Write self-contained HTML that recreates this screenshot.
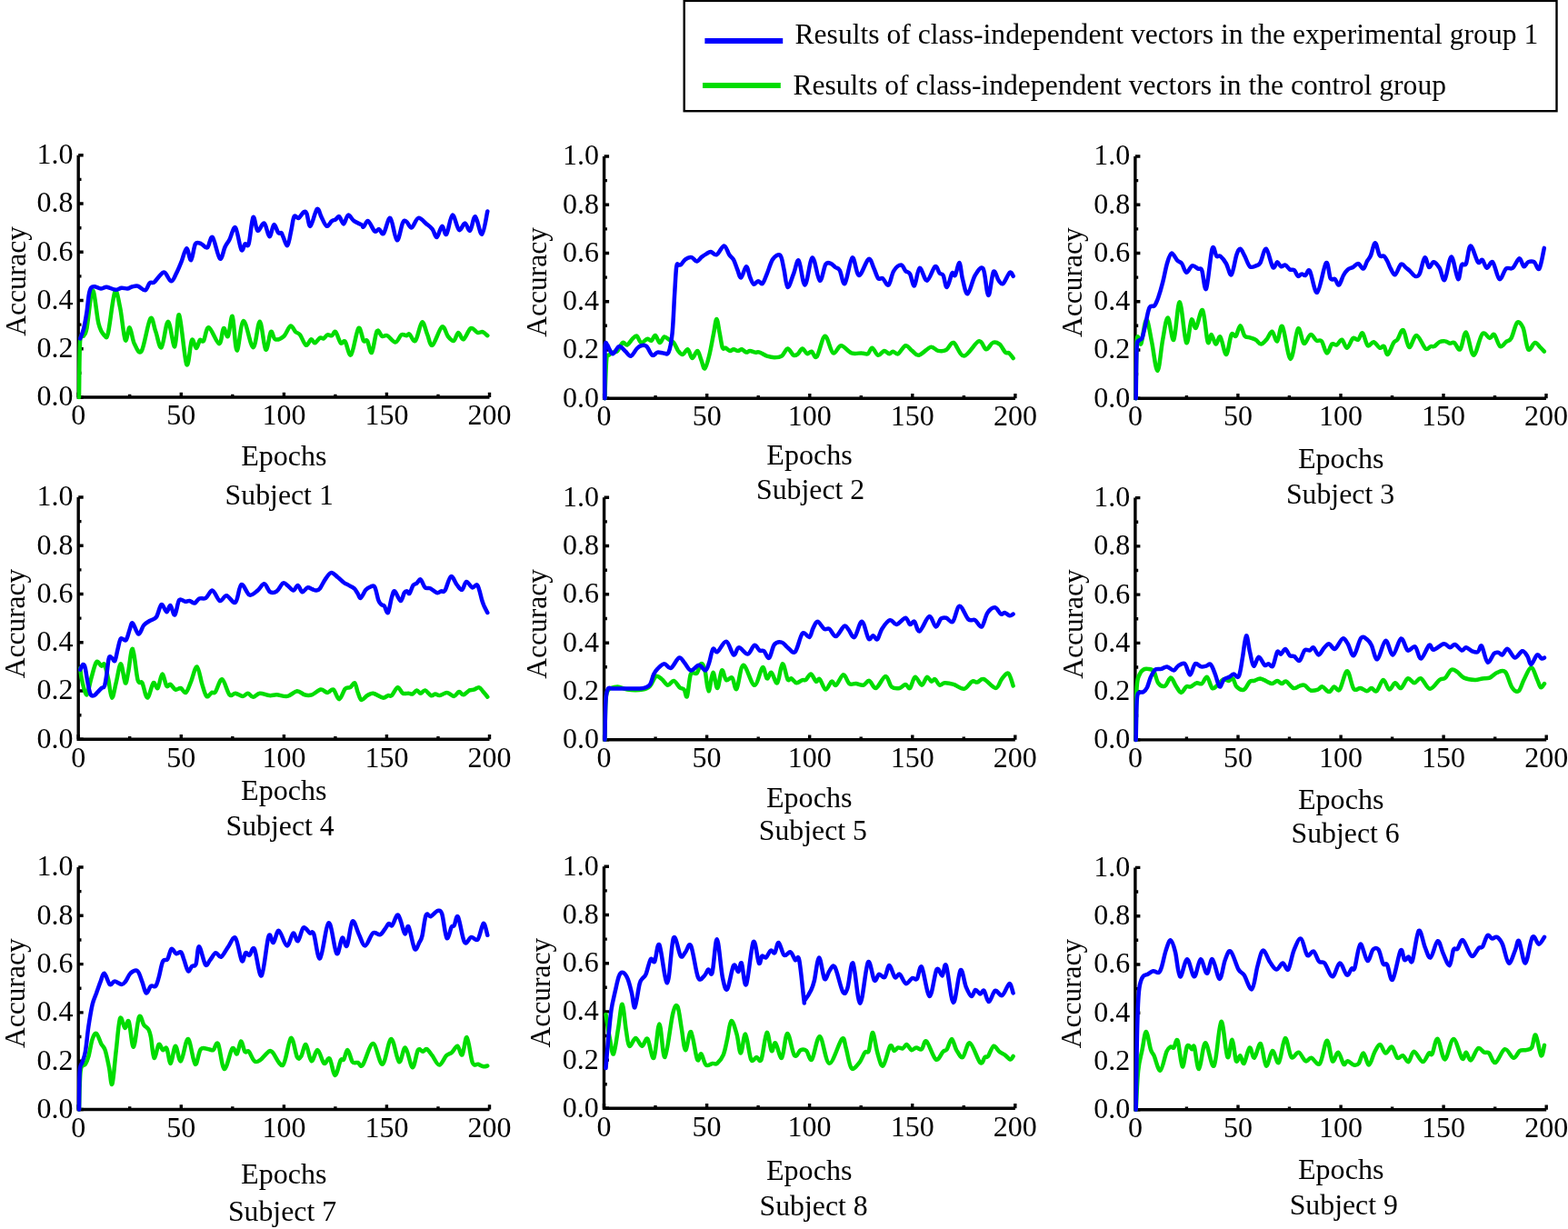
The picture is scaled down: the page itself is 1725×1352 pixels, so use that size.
<!DOCTYPE html>
<html><head><meta charset="utf-8"><title>Accuracy curves</title>
<style>
html,body{margin:0;padding:0;background:#fff;overflow:hidden;}
svg{display:block;}
text{font-family:"Liberation Serif", serif;fill:#000;}
</style></head><body>
<svg width="1725" height="1352" viewBox="0 0 1725 1352">
<rect x="0" y="0" width="1725" height="1352" fill="#fff"/>

<g id="legend">
<rect x="752.7" y="0.9" width="959.8" height="121.3" fill="#fff" stroke="#000" stroke-width="2.4"/>
<line x1="775.4" y1="45" x2="861.2" y2="45" stroke="#0000FF" stroke-width="6"/>
<line x1="773" y1="94" x2="858.8" y2="94" stroke="#00DC00" stroke-width="6"/>
<text x="874.5" y="48.3" font-size="31.6">Results of class-independent vectors in the experimental group 1</text>
<text x="872.4" y="104.4" font-size="31.6">Results of class-independent vectors in the control group</text>
</g>
<g id="sp1">
<path d="M86.2,170.8V438.7M84.5,437H538.5" stroke="#000" stroke-width="3.4" fill="none"/>
<path d="M86.2,437H91.7M86.2,383.8H91.7M86.2,330.5H91.7M86.2,277.3H91.7M86.2,224H91.7M86.2,170.8H91.7M86.2,410.4H89.5M86.2,357.1H89.5M86.2,303.9H89.5M86.2,250.7H89.5M86.2,197.4H89.5M86.2,437V431.7M199.3,437V431.7M312.4,437V431.7M425.4,437V431.7M538.5,437V431.7M142.7,437V433.7M255.8,437V433.7M368.9,437V433.7M482,437V433.7" stroke="#000" stroke-width="3.4" fill="none"/>
<text x="80.5" y="446.4" font-size="32" text-anchor="end">0.0</text>
<text x="80.5" y="393.2" font-size="32" text-anchor="end">0.2</text>
<text x="80.5" y="339.9" font-size="32" text-anchor="end">0.4</text>
<text x="80.5" y="286.7" font-size="32" text-anchor="end">0.6</text>
<text x="80.5" y="233.4" font-size="32" text-anchor="end">0.8</text>
<text x="80.5" y="180.2" font-size="32" text-anchor="end">1.0</text>
<text x="86.2" y="467.2" font-size="32" text-anchor="middle">0</text>
<text x="199.3" y="467.2" font-size="32" text-anchor="middle">50</text>
<text x="312.4" y="467.2" font-size="32" text-anchor="middle">100</text>
<text x="425.4" y="467.2" font-size="32" text-anchor="middle">150</text>
<text x="538.5" y="467.2" font-size="32" text-anchor="middle">200</text>
<text transform="translate(28,309.4) rotate(-90)" font-size="31.5" text-anchor="middle">Accuracy</text>
<text x="312.4" y="511.7" font-size="32.1" text-anchor="middle">Epochs</text>
<text x="307.2" y="555.3" font-size="31.8" text-anchor="middle">Subject 1</text>
<path d="M87,437C87.2,426.8 87.3,387 88.1,375.7C89,364.4 91,371.7 92.2,369.2C93.4,366.8 93.8,369.4 95.5,361.1C97.1,352.8 99.8,320.4 102,319.6C104.1,318.8 106.3,347.9 108.5,356.2C110.6,364.5 113.2,367.6 115,369.2C116.7,370.8 117.2,374 119,366C120.9,358 124.2,325.8 126.4,321.2C128.5,316.6 130.2,329.5 132.1,338.3C134,347.1 136,370.4 137.8,374.1C139.5,377.8 141,359.7 142.6,360.3C144.3,360.8 145.4,373 147.5,377.4C149.7,381.7 152.7,390.8 155.7,386.3C158.6,381.8 162.8,354.2 165.4,350.5C168,346.8 169.1,359 171.1,364.3C173.2,369.6 175.3,384 177.6,382.2C179.9,380.5 182.5,353.9 184.9,353.8C187.4,353.6 190.2,382.6 192.3,381.4C194.3,380.2 195,343.2 197.1,346.4C199.3,349.7 203,396.3 205.3,400.9C207.6,405.6 209.2,377.1 211,374.1C212.7,371.1 214.4,383 215.9,383C217.4,383 218.6,375.5 219.9,374.1C221.3,372.7 222.4,377.2 224,374.9C225.6,372.6 226.8,359.7 229.7,360.3C232.5,360.8 238.4,378 241.1,378.2C243.8,378.3 244.3,362.4 246,361.1C247.6,359.7 249.2,372.2 250.8,370C252.5,367.9 254.1,345.5 255.7,348.1C257.4,350.6 258.6,384.7 260.6,385.5C262.6,386.3 264.9,353.5 267.9,352.9C270.9,352.4 275.5,382.1 278.5,382.2C281.5,382.4 283.5,353.4 285.8,353.8C288.1,354.2 290.3,382.8 292.3,384.7C294.4,386.6 296.3,367 298,365.1C299.8,363.2 300.5,372.5 302.9,373.3C305.3,374.1 309.4,372.4 312.2,370C315,367.6 317.4,359.4 319.5,358.6C321.7,357.8 323.5,363.5 325.2,365.1C327,366.7 328.2,365.9 330.1,368.4C332,370.8 334.6,378.9 336.6,379.8C338.6,380.6 340.7,373.7 342.3,373.3C343.9,372.8 344.7,377.6 346.4,377.3C348,377.1 350.4,372.4 352.1,371.6C353.7,370.8 354.8,373 356.1,372.4C357.5,371.9 358.7,368.9 360.2,368.4C361.7,367.8 363.6,369.7 365.1,369.2C366.6,368.6 367.5,363.8 369.1,365.1C370.8,366.5 373.1,375.6 374.8,377.3C376.6,379.1 377.8,373.5 379.7,375.7C381.6,377.9 383.8,392.8 386.2,390.3C388.7,387.9 392.1,363.6 394.4,361.1C396.7,358.5 398.4,372.6 400,374.9C401.7,377.2 402.6,372.7 404.1,374.9C405.6,377.1 407.2,389.7 409,387.9C410.8,386.1 412.8,367.3 414.7,364.3C416.6,361.3 418.5,369.2 420.4,370C422.3,370.8 423.6,368.1 426.1,369.2C428.5,370.3 432.4,376.6 435,376.5C437.6,376.4 439.5,369.6 441.5,368.4C443.6,367.2 445.7,369.3 447.2,369.2C448.7,369.1 448.9,366.6 450.5,367.6C452.1,368.5 454.7,377.1 457,374.9C459.3,372.7 462.1,355.8 464.3,354.5C466.5,353.3 468.1,363.4 470,367.6C471.9,371.8 473,381.1 475.7,379.8C478.4,378.4 483.4,361.1 486.3,359.4C489.1,357.8 490.6,367.4 492.8,370C494.9,372.6 497.4,375.6 499.3,374.9C501.2,374.2 502.4,366.2 504.2,365.9C505.9,365.7 507.6,374.1 509.9,373.3C512.2,372.4 515.4,362.3 518,361.1C520.6,359.8 523.1,365.3 525.3,365.9C527.5,366.6 529.2,364.6 531,365.1C532.8,365.7 535.4,368.5 536.3,369.2" stroke="#00DC00" stroke-width="4.5" fill="none" stroke-linejoin="round" stroke-linecap="round"/>
<path d="M88.2,372.5C88.9,370.6 91,366 92.2,361.1C93.4,356.2 94.5,349.4 95.5,343.2C96.4,336.9 97.1,328.1 97.9,323.7C98.7,319.2 99.3,317.7 100.3,316.3C101.4,314.9 102.6,315 104.4,315.2C106.2,315.4 108.7,317.4 110.9,317.5C113.1,317.6 114.7,315.6 117.4,315.8C120.1,316.1 124.5,318.6 127.2,318.8C129.9,318.9 131.5,317 133.7,316.8C135.9,316.6 138.3,317.7 140.2,317.5C142.1,317.3 143.2,316 145.1,315.5C147,315.1 149.2,314.1 151.6,314.7C154,315.3 157.6,319.8 159.7,319.3C161.9,318.7 163,312.9 164.6,311.5C166.2,310 167.9,311.7 169.5,310.6C171.1,309.6 172.5,306.8 174.4,304.9C176.3,303.1 178.6,298.8 180.9,299.6C183.2,300.3 186,309.1 188.2,309.3C190.4,309.6 192,304.5 193.9,300.9C195.8,297.3 197.7,292.5 199.6,287.9C201.5,283.3 203.5,273.5 205.3,273.2C207,272.9 208.5,287 210.2,286.2C211.8,285.4 213.1,271.3 215,268.3C216.9,265.4 219.4,267.7 221.6,268.3C223.7,269 226,273.6 228.1,272.4C230.1,271.2 231.5,259 233.8,261C236.1,263 239.6,282.8 241.9,284.6C244.2,286.4 245.8,275.1 247.6,271.6C249.4,268.1 250.6,267 252.5,263.5C254.4,259.9 256.8,248.5 259,250.4C261.1,252.3 263.7,271.9 265.5,274.8C267.2,277.8 268.2,269.4 269.6,268.3C270.9,267.3 272.1,273.2 273.6,268.3C275.1,263.5 276.9,241.5 278.5,239C280.1,236.6 281.4,252.6 283.4,253.7C285.4,254.8 288.5,244.5 290.7,245.6C292.9,246.6 294.6,259.9 296.4,260.2C298.2,260.5 299.7,247.9 301.3,247.2C302.9,246.5 304.8,254.6 306.2,256.1C307.5,257.6 308.5,255.5 309.4,256.1C310.3,256.8 310.2,257.9 311.4,260.2C312.5,262.5 314.8,271 316.3,270C317.8,268.9 319.1,259 320.3,253.7C321.6,248.4 322.2,240.5 323.6,238.2C324.9,235.9 326.7,240.7 328.5,239.9C330.2,239 332.7,234.2 334.2,233.3C335.7,232.5 336.2,232.4 337.4,235C338.6,237.6 339.6,249.6 341.5,248.8C343.4,248 346.8,231.7 348.8,230.1C350.8,228.5 351.9,235.9 353.7,239C355.4,242.2 357.5,248.1 359.4,248.8C361.3,249.5 363.4,244.3 365.1,243.1C366.7,241.9 367.8,242.3 369.1,241.5C370.5,240.7 371.7,237.4 373.2,238.2C374.7,239 376.5,246.6 378.1,246.4C379.7,246.1 381.1,237.1 383,236.6C384.9,236.1 387,241.3 389.5,243.1C391.9,244.9 395.8,246.1 397.6,247.2C399.4,248.3 398.8,250.3 400,249.6C401.3,248.9 402.9,242.3 404.9,243.1C407,243.9 410.2,253 412.2,254.5C414.3,256 415.5,251.7 417.1,252.1C418.8,252.5 420,259 422,256.9C424,254.9 426.9,238.6 429.3,239.9C431.8,241.1 434.3,263.4 436.7,264.3C439,265.1 441.4,248.1 443.2,244.7C444.9,241.3 445.6,243 447.2,243.9C448.9,244.9 450.8,251.1 452.9,250.4C455.1,249.8 457.5,240.5 460.2,239.9C463,239.2 466.6,244.3 469.2,246.4C471.8,248.4 473.8,249.6 475.7,252.1C477.6,254.5 478.8,261.5 480.6,261C482.3,260.5 484.5,249.3 486.3,248.8C488,248.3 489.3,259.8 491.2,257.8C493,255.7 495.4,237.4 497.7,236.6C500,235.8 502.7,251.4 505,252.9C507.3,254.4 509.5,245.4 511.5,245.6C513.5,245.7 515.3,254.9 517.2,253.7C519.1,252.5 520.7,237.6 522.9,238.2C525,238.9 528,258.7 530.2,257.8C532.4,256.8 535.3,236.7 536.3,232.5" stroke="#0000FF" stroke-width="4.5" fill="none" stroke-linejoin="round" stroke-linecap="round"/>
</g>
<g id="sp2">
<path d="M664.6,172V439.9M662.9,438.2H1116.9" stroke="#000" stroke-width="3.4" fill="none"/>
<path d="M664.6,438.2H670.1M664.6,385H670.1M664.6,331.7H670.1M664.6,278.5H670.1M664.6,225.2H670.1M664.6,172H670.1M664.6,411.6H667.9M664.6,358.3H667.9M664.6,305.1H667.9M664.6,251.9H667.9M664.6,198.6H667.9M664.6,438.2V432.9M777.7,438.2V432.9M890.8,438.2V432.9M1003.8,438.2V432.9M1116.9,438.2V432.9M721.1,438.2V434.9M834.2,438.2V434.9M947.3,438.2V434.9M1060.4,438.2V434.9" stroke="#000" stroke-width="3.4" fill="none"/>
<text x="658.9" y="447.6" font-size="32" text-anchor="end">0.0</text>
<text x="658.9" y="394.4" font-size="32" text-anchor="end">0.2</text>
<text x="658.9" y="341.1" font-size="32" text-anchor="end">0.4</text>
<text x="658.9" y="287.9" font-size="32" text-anchor="end">0.6</text>
<text x="658.9" y="234.6" font-size="32" text-anchor="end">0.8</text>
<text x="658.9" y="181.4" font-size="32" text-anchor="end">1.0</text>
<text x="664.6" y="468.4" font-size="32" text-anchor="middle">0</text>
<text x="777.7" y="468.4" font-size="32" text-anchor="middle">50</text>
<text x="890.8" y="468.4" font-size="32" text-anchor="middle">100</text>
<text x="1003.8" y="468.4" font-size="32" text-anchor="middle">150</text>
<text x="1116.9" y="468.4" font-size="32" text-anchor="middle">200</text>
<text transform="translate(601,310.4) rotate(-90)" font-size="31.5" text-anchor="middle">Accuracy</text>
<text x="890.5" y="510.8" font-size="32.1" text-anchor="middle">Epochs</text>
<text x="891.6" y="549.3" font-size="31.8" text-anchor="middle">Subject 2</text>
<path d="M665.4,438.2C665.7,431.1 666.5,403.6 667.2,395.7C667.9,387.8 668.4,392.2 669.6,390.8C670.9,389.5 672.9,388.4 674.5,387.6C676.2,386.8 677.6,387.7 679.4,386C681.2,384.2 683.3,378.1 685.1,377C686.9,375.9 688.2,380.1 690,379.5C691.7,378.8 693.9,374.6 695.7,372.9C697.4,371.3 698.9,369 700.6,369.7C702.2,370.4 703.5,376.5 705.4,377C707.3,377.6 710,373.4 711.9,372.9C713.8,372.5 715.3,375.3 716.8,374.6C718.3,373.9 719.4,368.5 720.9,368.9C722.4,369.3 724.2,376.7 725.8,377C727.4,377.3 728.9,371 730.7,370.5C732.4,370 734.6,372.7 736.4,373.8C738.1,374.8 739.6,375 741.2,377C742.9,379 744.5,383.8 746.1,386C747.7,388.1 749.2,390.3 751,390C752.8,389.8 754.9,383.7 756.7,384.3C758.5,385 759.8,393.8 761.6,394.1C763.3,394.4 765.6,385.7 767.3,386C768.9,386.2 770,392.5 771.3,395.7C772.7,399 773.9,406.3 775.4,405.5C776.9,404.7 778.7,397.4 780.3,390.8C781.9,384.3 783.8,373.1 785.2,366.4C786.5,359.8 787.3,351 788.4,351C789.5,351 790.6,361.1 791.7,366.4C792.8,371.7 793.8,380 794.9,382.7C796,385.4 796.8,382.2 798.2,382.7C799.5,383.2 801.6,385.7 803.1,386C804.6,386.2 805.6,384.3 807.1,384.3C808.6,384.3 810.5,386 812,386C813.5,386 814.6,384.1 816.1,384.3C817.6,384.6 819.5,387.3 821,387.6C822.5,387.9 823.4,386 825,386C826.7,386 829,387.3 830.7,387.6C832.5,387.9 833.4,386.9 835.6,387.6C837.8,388.3 841,390.7 843.7,391.7C846.5,392.6 849.2,393.3 851.9,393.3C854.6,393.3 857.6,393.3 860,391.7C862.5,390 864.4,383.7 866.5,383.5C868.7,383.4 871.1,389.9 873,390.8C874.9,391.8 876.3,390.4 877.9,389.2C879.5,388 881.1,383.5 882.8,383.5C884.5,383.5 886.3,388.7 888,389.2C889.7,389.7 891.1,386.2 892.9,386.7C894.7,387.3 896.1,395.3 898.6,392.4C901,389.6 904.6,370.3 907.5,369.7C910.5,369 913.5,386.6 916.5,388.4C919.5,390.1 922,380.2 925.4,380.2C928.8,380.2 933,387 936.8,388.4C940.6,389.7 945.2,388.2 948.2,388.4C951.2,388.5 952.8,390.1 954.7,389.2C956.6,388.2 957.7,382.4 959.6,382.7C961.5,383 963.9,390.3 966.1,390.8C968.3,391.4 970.6,386.2 972.6,385.9C974.6,385.7 976.7,389.1 978.3,389.2C979.9,389.3 980.7,386.7 982.4,386.7C984,386.7 985.8,390.3 988.1,389.2C990.4,388.1 993.6,380.8 996.2,380.2C998.8,379.7 1001.1,384.2 1003.5,385.9C1006,387.7 1007.4,391.5 1010.8,390.8C1014.2,390.1 1020.3,382.7 1023.9,381.9C1027.4,381.1 1029.1,385.4 1032,385.9C1034.8,386.5 1038.1,386.6 1040.9,385.1C1043.8,383.6 1045.8,375.9 1049.1,377C1052.3,378.1 1055.8,391.9 1060.5,391.6C1065.1,391.4 1072.7,376.6 1076.7,375.4C1080.8,374.1 1082.3,384 1084.9,384.3C1087.4,384.6 1089.7,377.9 1092.2,377C1094.6,376 1097.2,376.9 1099.5,378.6C1101.8,380.4 1104.2,385.9 1106,387.6C1107.8,389.2 1108.6,387.3 1110.1,388.4C1111.5,389.5 1113.9,393.1 1114.7,394.1" stroke="#00DC00" stroke-width="4.5" fill="none" stroke-linejoin="round" stroke-linecap="round"/>
<path d="M665.4,438.2C665.4,429 665.1,392.6 665.6,382.7C666,372.9 667.2,378.9 668,379.1C668.8,379.4 669.4,382.7 670.5,384.3C671.5,386 672.8,389.8 674.5,389.2C676.3,388.7 678.9,381.6 681,381.1C683.2,380.5 685.4,384.2 687.5,386C689.7,387.7 691.9,392.1 694,391.7C696.2,391.2 698.7,385.4 700.6,383.5C702.5,381.6 703.7,380.7 705.4,380.3C707.2,379.8 709.1,379 711.1,380.8C713.2,382.5 715.6,389.7 717.6,390.8C719.7,392 721.3,388 723.3,387.6C725.4,387.2 727.8,388.4 729.8,388.4C731.9,388.4 733.9,391.2 735.5,387.6C737.2,383.9 738.5,376.7 739.6,366.4C740.7,356.1 741.3,338 742,325.8C742.8,313.6 743.4,298.9 744.2,293.2C745,287.5 746.1,292 746.9,291.6C747.8,291.2 748.2,291.9 749.4,290.8C750.6,289.7 752.4,286.4 754.3,285.1C756.1,283.8 758.7,282.7 760.8,283.1C762.8,283.5 764.6,287.6 766.5,287.5C768.4,287.4 770.4,284 772.1,282.6C773.9,281.3 775.4,280.3 777,279.4C778.7,278.4 780,276.8 781.9,276.9C783.8,277.1 786,281.3 788.4,280.2C790.9,279.1 794.3,270.4 796.6,270.4C798.9,270.4 800.5,277.6 802.3,280.2C804,282.8 805.6,283.2 807.1,285.9C808.6,288.6 809.8,293.2 811.2,296.5C812.6,299.7 813.6,306 815.3,305.4C816.9,304.9 819.3,293.4 821,293.2C822.6,293.1 823.7,301.4 825,304.6C826.4,307.9 827.6,312 829.1,312.7C830.6,313.5 832.4,309.3 834,309.2C835.6,309 837.2,313.2 838.9,311.9C840.5,310.6 841.8,305.8 843.7,301.4C845.6,296.9 847.8,288.5 850.2,285.1C852.7,281.7 856.4,279.1 858.4,281C860.4,282.9 861.1,290.6 862.5,296.5C863.8,302.3 864.8,315.2 866.5,316C868.3,316.8 871,306.2 873,301.4C875.1,296.5 876.6,284.7 878.7,286.7C880.8,288.7 883.1,314.1 885.6,313.5C888.1,313 891,284.3 893.7,283.4C896.4,282.6 899.4,307.4 901.8,308.7C904.3,309.9 906.3,293.9 908.3,290.8C910.4,287.6 912.3,289.4 914,290C915.8,290.5 917.3,292.8 918.9,294C920.6,295.2 922,294.3 923.8,297.3C925.6,300.3 927.2,314.2 929.5,311.9C931.8,309.6 935.1,284.9 937.6,283.4C940.2,282 942,302.7 945,303C947.9,303.2 952.8,286.4 955.5,285.1C958.2,283.7 959.5,291.3 961.2,294.8C963,298.4 964.5,304.3 966.1,306.2C967.7,308.1 969.1,305 971,306.2C972.9,307.4 975.5,314.9 977.5,313.5C979.5,312.2 980.9,301.7 983.2,298.1C985.5,294.4 989.1,291.6 991.3,291.6C993.5,291.6 994.6,296.5 996.2,298.1C997.8,299.7 999.5,298.6 1001.1,301.3C1002.7,304.1 1004.2,315.4 1006,314.4C1007.7,313.3 1009.3,295.8 1011.7,294.8C1014,293.9 1016.9,308.9 1019.8,308.7C1022.6,308.4 1026.4,294.6 1028.7,293.2C1031,291.9 1032.1,298.9 1033.6,300.5C1035.1,302.2 1036.3,300.4 1037.7,303C1039,305.5 1040.1,316.4 1041.7,316C1043.4,315.6 1046,302.7 1047.4,300.5C1048.9,298.4 1049.3,304.9 1050.7,303C1052.1,301.1 1054.2,288.6 1055.6,289.1C1056.9,289.7 1057.3,300.5 1058.8,306.2C1060.3,311.9 1062.2,323.8 1064.5,323.3C1066.8,322.8 1069.8,307.6 1072.7,303C1075.5,298.4 1079.2,292 1081.6,295.6C1084,299.3 1085.4,324.4 1087.3,324.9C1089.2,325.5 1091.1,301.6 1093,298.9C1094.9,296.2 1096.9,306.5 1098.7,308.7C1100.4,310.8 1101.5,313.4 1103.6,311.9C1105.6,310.4 1109,301.1 1110.9,299.7C1112.7,298.4 1114.1,303.1 1114.7,303.8" stroke="#0000FF" stroke-width="4.5" fill="none" stroke-linejoin="round" stroke-linecap="round"/>
</g>
<g id="sp3">
<path d="M1248.9,172V439.9M1247.2,438.2H1701" stroke="#000" stroke-width="3.4" fill="none"/>
<path d="M1248.9,438.2H1254.4M1248.9,385H1254.4M1248.9,331.7H1254.4M1248.9,278.5H1254.4M1248.9,225.2H1254.4M1248.9,172H1254.4M1248.9,411.6H1252.2M1248.9,358.3H1252.2M1248.9,305.1H1252.2M1248.9,251.9H1252.2M1248.9,198.6H1252.2M1248.9,438.2V432.9M1361.9,438.2V432.9M1475,438.2V432.9M1588,438.2V432.9M1701,438.2V432.9M1305.4,438.2V434.9M1418.4,438.2V434.9M1531.5,438.2V434.9M1644.5,438.2V434.9" stroke="#000" stroke-width="3.4" fill="none"/>
<text x="1243.2" y="447.6" font-size="32" text-anchor="end">0.0</text>
<text x="1243.2" y="394.4" font-size="32" text-anchor="end">0.2</text>
<text x="1243.2" y="341.1" font-size="32" text-anchor="end">0.4</text>
<text x="1243.2" y="287.9" font-size="32" text-anchor="end">0.6</text>
<text x="1243.2" y="234.6" font-size="32" text-anchor="end">0.8</text>
<text x="1243.2" y="181.4" font-size="32" text-anchor="end">1.0</text>
<text x="1248.9" y="468.4" font-size="32" text-anchor="middle">0</text>
<text x="1361.9" y="468.4" font-size="32" text-anchor="middle">50</text>
<text x="1475" y="468.4" font-size="32" text-anchor="middle">100</text>
<text x="1588" y="468.4" font-size="32" text-anchor="middle">150</text>
<text x="1701" y="468.4" font-size="32" text-anchor="middle">200</text>
<text transform="translate(1189.5,310.7) rotate(-90)" font-size="31.5" text-anchor="middle">Accuracy</text>
<text x="1475.2" y="514.5" font-size="32.1" text-anchor="middle">Epochs</text>
<text x="1474.5" y="554.4" font-size="31.8" text-anchor="middle">Subject 3</text>
<path d="M1249.7,438.2C1249.8,427.9 1250,387.1 1250.6,376.2C1251.1,365.3 1252.2,372.7 1253,372.9C1253.8,373.2 1254.1,381.4 1255.5,377.8C1256.8,374.3 1259.3,352.3 1261.2,351.8C1263.1,351.3 1264.8,365.2 1266.8,374.6C1268.9,383.9 1271.3,407.9 1273.4,407.9C1275.4,407.9 1277.2,384.3 1279,374.6C1280.9,364.8 1282.7,349.5 1284.7,349.4C1286.8,349.2 1289.1,376.6 1291.3,373.8C1293.4,370.9 1295.5,331.7 1297.8,332.3C1300.1,332.8 1302.9,373.8 1305.1,377C1307.3,380.3 1309,354.5 1310.8,351.8C1312.5,349.1 1313.6,362.5 1315.7,360.7C1317.7,359 1320.8,338.6 1323,341.2C1325.2,343.8 1327,371.7 1328.7,376.2C1330.3,380.7 1331.3,367.7 1332.7,368.1C1334.2,368.5 1336,378.2 1337.6,378.6C1339.3,379 1340.6,368.6 1342.5,370.5C1344.4,372.4 1347,390.4 1349,390C1351,389.6 1352.9,371.5 1354.7,368.1C1356.5,364.7 1358,371.3 1359.6,369.7C1361.2,368.1 1362.8,358.3 1364.5,358.3C1366.1,358.3 1367.6,367.5 1369.4,369.7C1371.1,371.9 1373,370.6 1375,371.3C1377.1,372 1379.5,372.5 1381.6,373.8C1383.6,375 1385.2,378.8 1387.3,378.6C1389.3,378.5 1391.7,375.3 1393.8,372.9C1395.8,370.6 1397.6,364.4 1399.5,364.8C1401.4,365.2 1403.2,376.3 1405.1,375.4C1407,374.4 1408.4,355.9 1410.8,359.1C1413.3,362.4 1416.9,394.5 1419.8,394.9C1422.6,395.3 1425.5,364.4 1427.9,361.6C1430.4,358.7 1432.1,376.7 1434.4,377.8C1436.7,378.9 1439.5,368.6 1441.8,368.1C1444.1,367.5 1446.2,373.4 1448.3,374.6C1450.3,375.8 1452.1,373.1 1454,375.4C1455.9,377.7 1457.8,387.9 1459.7,388.4C1461.6,388.9 1463.5,380.1 1465.3,378.6C1467.2,377.1 1468.8,380.2 1470.6,379.4C1472.4,378.6 1474.4,373.2 1476.3,373.7C1478.2,374.3 1479.9,383 1482,382.7C1484,382.4 1486.4,373.6 1488.5,372.1C1490.5,370.6 1492.4,374.7 1494.2,373.7C1495.9,372.8 1497.3,365.3 1499,366.4C1500.8,367.5 1502.7,378.6 1504.7,380.2C1506.8,381.9 1509.1,375.8 1511.2,376.2C1513.4,376.6 1515.9,381.9 1517.8,382.7C1519.6,383.5 1521.1,379.8 1522.6,381.1C1524.1,382.3 1524.9,390.7 1526.7,390C1528.5,389.3 1531.4,379.7 1533.2,377C1535,374.3 1535.5,376 1537.3,373.7C1539,371.4 1541.6,361.8 1543.8,363.2C1545.9,364.5 1547.8,380.9 1550.3,381.9C1552.7,382.8 1555.4,368.6 1558.4,368.9C1561.4,369.1 1565.6,381.5 1568.2,383.5C1570.8,385.5 1572.2,381.5 1573.9,381.1C1575.5,380.6 1576.3,381.9 1577.9,381.1C1579.6,380.2 1581.6,377.1 1583.6,376.2C1585.7,375.2 1588.2,375.1 1590.1,375.4C1592,375.6 1593.4,377.5 1595,377.8C1596.7,378.1 1598,375.9 1599.9,377C1601.8,378.1 1604.2,386.2 1606.4,384.3C1608.6,382.4 1610.5,364.5 1612.9,365.6C1615.4,366.7 1618.1,390.5 1621.1,390.8C1624,391.1 1627.8,370.3 1630.8,367.2C1633.8,364.1 1636.8,372 1638.9,372.1C1641.1,372.2 1641.9,366.5 1643.8,368C1645.7,369.5 1648.2,379.7 1650.3,381.1C1652.5,382.4 1654.8,377.7 1656.8,376.2C1658.9,374.7 1660.5,375.6 1662.5,372.1C1664.6,368.6 1666.9,356.9 1669,355C1671.2,353.1 1673.5,355.8 1675.6,360.7C1677.6,365.6 1679.1,381.6 1681.2,384.3C1683.4,387 1686.4,377.4 1688.6,377C1690.7,376.6 1692.6,380.2 1694.3,381.9C1696,383.5 1698,385.9 1698.8,386.7" stroke="#00DC00" stroke-width="4.5" fill="none" stroke-linejoin="round" stroke-linecap="round"/>
<path d="M1249.7,438.2C1249.8,429 1250,393.3 1250.6,382.7C1251.1,372.1 1252.1,376.3 1253,374.6C1254,372.8 1255.2,374.6 1256.3,372.1C1257.4,369.7 1258.2,365.5 1259.5,359.9C1260.9,354.4 1262.6,342.7 1264.4,338.8C1266.2,334.8 1268.5,338.2 1270.1,336.3C1271.7,334.4 1272.7,331.6 1274.2,327.4C1275.7,323.2 1277.4,317.4 1279,311.1C1280.7,304.9 1282.3,295.4 1283.9,290C1285.6,284.5 1286.9,279.1 1288.8,278.6C1290.7,278 1293.4,284.8 1295.3,286.7C1297.2,288.6 1298.6,287.8 1300.2,290C1301.8,292.1 1303.2,299.3 1305.1,299.7C1307,300.1 1309.4,293.1 1311.6,292.4C1313.8,291.7 1316.3,294.8 1318.1,295.7C1319.9,296.5 1320.7,293.6 1322.2,297.3C1323.7,300.9 1325.2,321.6 1327,317.6C1328.9,313.7 1331.7,279.7 1333.6,273.7C1335.5,267.7 1336.9,280.5 1338.4,281.8C1339.9,283.2 1340.7,280.5 1342.5,281.8C1344.3,283.2 1347,286.6 1349,290C1351,293.4 1352.8,303.8 1354.7,302.2C1356.6,300.5 1358.8,284.9 1360.4,280.2C1362,275.5 1363,273.4 1364.5,273.7C1366,274 1367.6,278.6 1369.4,281.8C1371.1,285.1 1373,291.5 1375,293.2C1377.1,295 1379.7,293.1 1381.6,292.4C1383.5,291.7 1384.5,292.3 1386.4,289.2C1388.3,286 1390.6,272.9 1392.9,273.7C1395.3,274.5 1398.2,291.6 1400.3,294C1402.3,296.5 1403.7,288.5 1405.1,288.3C1406.6,288.2 1407.7,292.7 1409.2,293.2C1410.7,293.8 1412.5,291 1414.1,291.6C1415.7,292.1 1417.4,295.5 1419,296.5C1420.6,297.4 1422.4,296.1 1423.9,297.3C1425.4,298.5 1426.6,303.1 1427.9,303.8C1429.3,304.5 1430.6,301.5 1432,301.4C1433.4,301.2 1434.6,303.5 1436.1,303C1437.6,302.4 1438.8,295 1440.9,298.1C1443.1,301.2 1446.1,323.2 1449.1,321.7C1452.1,320.2 1456.4,291.7 1458.8,289.2C1461.3,286.6 1462.1,303.3 1463.7,306.2C1465.3,309.2 1467.1,305.8 1468.6,307C1470.2,308.3 1471.5,314.2 1473,313.5C1474.6,312.9 1476.3,305.8 1477.9,303C1479.5,300.1 1481,298 1482.8,296.5C1484.5,295 1486.6,295.1 1488.5,294C1490.4,292.9 1492.3,289.7 1494.2,290C1496.1,290.2 1498.2,296.1 1499.9,295.6C1501.5,295.2 1502.6,290 1503.9,287.5C1505.3,285.1 1506.5,284.4 1508,281C1509.5,277.6 1511.2,267.2 1512.9,267.2C1514.5,267.2 1516.1,278.6 1517.8,281C1519.4,283.4 1521.1,280.6 1522.6,281.8C1524.1,283 1525.5,286 1526.7,288.3C1527.9,290.6 1528.6,293.3 1530,295.6C1531.3,298 1532.9,303 1534.8,302.2C1536.7,301.3 1539.3,292 1541.3,290.8C1543.4,289.5 1545.4,293.6 1547,294.8C1548.7,296.1 1549.5,296.6 1551.1,298.1C1552.7,299.6 1555,303.2 1556.8,303.8C1558.6,304.3 1559.9,304.7 1561.7,301.3C1563.4,298 1565.6,284.7 1567.4,283.4C1569.1,282.2 1570.6,293.2 1572.2,294C1573.9,294.8 1575.2,288.2 1577.1,288.3C1579,288.5 1581.6,291.6 1583.6,294.8C1585.7,298.1 1587.2,309.9 1589.3,307.8C1591.5,305.8 1594.2,282.8 1596.7,282.6C1599.1,282.5 1602.1,305.5 1604,307C1605.9,308.5 1606.5,294.4 1608,291.6C1609.5,288.7 1611.3,293.5 1612.9,290C1614.5,286.4 1615.6,270.7 1617.8,270.4C1620,270.2 1623.8,285.8 1625.9,288.3C1628.1,290.9 1629.2,284.8 1630.8,285.9C1632.4,287 1633.8,294.4 1635.7,294.8C1637.6,295.2 1639.9,286.3 1642.2,288.3C1644.5,290.4 1647.1,305.8 1649.5,307C1652,308.3 1654.4,297.7 1656.8,295.6C1659.3,293.6 1661.7,296.7 1664.2,294.8C1666.6,292.9 1669.5,284.5 1671.5,284.3C1673.5,284 1674.7,292.5 1676.4,293.2C1678,293.9 1679.3,289.1 1681.2,288.3C1683.1,287.5 1685.7,287.1 1687.8,288.3C1689.8,289.5 1691.6,298.2 1693.4,295.6C1695.3,293.1 1697.9,276.7 1698.8,272.9" stroke="#0000FF" stroke-width="4.5" fill="none" stroke-linejoin="round" stroke-linecap="round"/>
</g>
<g id="sp4">
<path d="M86.2,547V815M84.5,813.3H538.5" stroke="#000" stroke-width="3.4" fill="none"/>
<path d="M86.2,813.3H91.7M86.2,760H91.7M86.2,706.8H91.7M86.2,653.5H91.7M86.2,600.3H91.7M86.2,547H91.7M86.2,786.7H89.5M86.2,733.4H89.5M86.2,680.1H89.5M86.2,626.9H89.5M86.2,573.6H89.5M86.2,813.3V808M199.3,813.3V808M312.4,813.3V808M425.4,813.3V808M538.5,813.3V808M142.7,813.3V810M255.8,813.3V810M368.9,813.3V810M482,813.3V810" stroke="#000" stroke-width="3.4" fill="none"/>
<text x="80.5" y="822.7" font-size="32" text-anchor="end">0.0</text>
<text x="80.5" y="769.4" font-size="32" text-anchor="end">0.2</text>
<text x="80.5" y="716.2" font-size="32" text-anchor="end">0.4</text>
<text x="80.5" y="662.9" font-size="32" text-anchor="end">0.6</text>
<text x="80.5" y="609.7" font-size="32" text-anchor="end">0.8</text>
<text x="80.5" y="556.4" font-size="32" text-anchor="end">1.0</text>
<text x="86.2" y="843.5" font-size="32" text-anchor="middle">0</text>
<text x="199.3" y="843.5" font-size="32" text-anchor="middle">50</text>
<text x="312.4" y="843.5" font-size="32" text-anchor="middle">100</text>
<text x="425.4" y="843.5" font-size="32" text-anchor="middle">150</text>
<text x="538.5" y="843.5" font-size="32" text-anchor="middle">200</text>
<text transform="translate(26.6,686) rotate(-90)" font-size="31.5" text-anchor="middle">Accuracy</text>
<text x="312.3" y="880.4" font-size="32.1" text-anchor="middle">Epochs</text>
<text x="308.1" y="918.7" font-size="31.8" text-anchor="middle">Subject 4</text>
<path d="M88.2,735C88.5,736.9 88.8,742 89.8,746.4C90.7,750.9 92.7,759.2 93.8,761.9C94.9,764.6 95.2,765.3 96.3,762.7C97.4,760.1 98.7,752.1 100.3,746.4C102,740.7 104.1,730.8 106,728.5C107.9,726.2 110.2,732.2 111.7,732.6C113.2,733 113.8,728.7 115,731C116.2,733.3 117.7,740.3 119,746.4C120.4,752.5 121.6,767 123.1,767.6C124.6,768.1 126.4,755.9 128,749.7C129.6,743.5 131.3,729.9 132.9,730.2C134.5,730.4 136.4,749.7 137.8,751.3C139.1,752.9 139.7,746.2 141,739.9C142.4,733.7 144.1,712.5 145.9,713.9C147.7,715.3 149.8,741.8 151.6,748.1C153.4,754.3 154.7,748.1 156.5,751.3C158.2,754.6 160.1,767.6 162.2,767.6C164.2,767.6 166.8,753.1 168.7,751.3C170.6,749.6 171.9,758.6 173.6,757C175.2,755.4 176.8,742 178.4,741.6C180.1,741.1 181.8,752.7 183.3,754.6C184.8,756.5 185.8,752.3 187.4,752.9C189,753.6 191.2,758 193.1,758.6C195,759.3 196.9,756.5 198.8,757C200.7,757.6 202.6,763.1 204.5,761.9C206.4,760.7 208.1,754.4 210.2,749.7C212.2,744.9 214.6,732.9 216.7,733.4C218.7,734 220.6,747.5 222.4,752.9C224.1,758.4 225.5,764.5 227.3,766C229,767.5 231.3,762.7 232.9,761.9C234.6,761.1 235.1,763.5 237,761.1C238.9,758.6 241.8,746.7 244.3,747.3C246.9,747.8 250,761.8 252.5,764.3C254.9,766.9 256.5,762.4 259,762.7C261.4,763 264.8,766 267.1,766C269.4,766 270.9,762.6 272.8,762.7C274.7,762.8 276.3,766.8 278.5,766.8C280.7,766.8 282.8,763 285.8,762.7C288.8,762.4 293.3,764.9 296.4,765.1C299.5,765.4 301.2,764.2 304.5,764.3C307.8,764.5 312.6,766.6 316.3,765.9C320,765.3 323.7,760.5 326.8,760.2C330,760 332.3,763.6 335,764.3C337.7,765 340.1,765.3 343.1,764.3C346.1,763.4 350,759 352.9,758.6C355.7,758.2 357.9,761.9 360.2,761.9C362.5,761.9 364.5,757.4 366.7,758.6C368.9,759.8 371,769.3 373.2,769.2C375.4,769.1 377.7,760 379.7,757.8C381.7,755.6 383.6,757.3 385.4,756.2C387.2,755.1 388.9,750.5 390.3,751.3C391.6,752.1 392.3,757.9 393.5,761.1C394.8,764.2 395.8,769.3 397.6,770C399.4,770.7 401.9,766.3 404.1,765.1C406.3,763.9 407.8,762.3 410.6,762.7C413.5,763.1 418.5,767.2 421.2,767.6C423.9,768 425.3,765.5 426.9,765.1C428.5,764.7 429.2,766.6 431,765.1C432.7,763.6 435.4,756.6 437.5,756.2C439.5,755.8 441.1,761.6 443.2,762.7C445.2,763.8 447.9,762.5 449.7,762.7C451.4,762.8 452.2,764 453.7,763.5C455.2,763 457.1,759.6 458.6,759.4C460.1,759.3 461.2,762.7 462.7,762.7C464.2,762.7 465.7,759 467.6,759.4C469.5,759.8 472.2,764.4 474.1,765.1C476,765.8 477.3,763.5 478.9,763.5C480.6,763.5 481.7,765.4 483.8,765.1C486,764.9 489.4,761.7 492,761.9C494.5,762 497.1,766.1 499.3,765.9C501.5,765.8 503.2,761.3 505,761.1C506.7,760.8 508,764.6 509.9,764.3C511.8,764 514.5,760.4 516.4,759.4C518.3,758.5 519.5,759.2 521.2,758.6C523,758.1 525.3,755.9 526.9,756.2C528.6,756.4 529.4,758.5 531,760.2C532.6,762 535.4,765.7 536.3,766.7" stroke="#00DC00" stroke-width="4.5" fill="none" stroke-linejoin="round" stroke-linecap="round"/>
<path d="M88.2,736.7C88.7,735.7 90.5,731.3 91.4,731C92.3,730.7 93,731.9 93.8,735C94.6,738.2 95.3,744.9 96.3,749.7C97.2,754.4 98.3,760.9 99.5,763.5C100.7,766.1 102.2,765.6 103.6,765.1C104.9,764.7 106.3,762.4 107.7,761.1C109,759.7 110.5,758.1 111.7,757C112.9,755.9 114,757.1 115,754.6C115.9,752 116.6,746.7 117.4,741.6C118.2,736.4 118.9,726.6 119.9,723.7C120.8,720.7 122,723.1 123.1,723.7C124.2,724.2 125.3,728.5 126.4,726.9C127.5,725.3 128.5,718 129.6,713.9C130.7,709.8 131.4,704.1 132.9,702.5C134.4,700.9 136.9,705.8 138.6,704.1C140.2,702.5 141.4,695.9 142.6,692.7C143.9,689.6 144.3,684.6 145.9,685.4C147.5,686.2 150.4,697.2 152.4,697.6C154.4,698 156.1,690.3 158.1,687.9C160.1,685.4 162.3,684.5 164.6,683C166.9,681.5 169.8,681.9 171.9,678.9C174.1,675.9 175.7,666 177.6,665.1C179.5,664.1 181.7,673.1 183.3,673.2C184.9,673.4 185.9,665.4 187.4,665.9C188.9,666.4 190.6,677.4 192.3,676.5C193.9,675.5 195.3,662.6 197.1,660.2C199,657.8 201.8,661.7 203.7,661.8C205.6,662 206.8,660.7 208.5,661C210.3,661.3 212.5,663.9 214.2,663.5C216,663 217.1,659.5 219.1,658.6C221.1,657.6 224,659.3 226.4,657.8C228.9,656.3 231.2,649.1 233.8,649.6C236.3,650.2 239.3,660.1 241.9,661C244.5,662 246.4,655 249.2,655.3C252.1,655.6 256.3,664.7 259,662.6C261.7,660.6 262.9,644.5 265.5,643.1C268.1,641.8 271.5,653.4 274.4,654.5C277.4,655.6 280.7,651.7 283.4,649.6C286.1,647.6 288.4,642 290.7,642.3C293,642.6 294.9,649.9 297.2,651.3C299.5,652.6 302.2,652.1 304.5,650.4C306.9,648.8 309.3,642.4 311.4,641.5C313.5,640.5 315.2,643.4 317.1,644.7C319,646.1 321,649.8 322.8,649.6C324.5,649.5 326,643.7 327.7,643.9C329.3,644.2 330.8,650.8 332.5,651.2C334.3,651.7 336.5,646.9 338.2,646.4C340,645.8 341.5,647.4 343.1,648C344.7,648.5 346.5,649.8 348,649.6C349.5,649.5 350.4,649.2 352.1,647.2C353.7,645.1 355.7,640.3 357.8,637.4C359.8,634.6 362,630.5 364.3,630.1C366.6,629.7 369.3,633.2 371.6,635C373.9,636.7 376.1,639.2 378.1,640.7C380.1,642.2 381.9,642.8 383.8,643.9C385.7,645 387.8,645.7 389.5,647.2C391.1,648.7 392.3,651.1 393.5,652.9C394.8,654.6 395.3,658.4 396.8,657.8C398.3,657.1 400.7,650.8 402.5,648.8C404.3,646.8 405.7,646.1 407.4,645.6C409,645 410.8,643.1 412.2,645.6C413.7,648 415.1,656.9 416.3,660.2C417.5,663.4 418.5,664 419.6,665.1C420.7,666.2 421.6,665.2 422.8,666.7C424,668.2 425.5,675.6 426.9,674C428.2,672.4 429.7,660.9 431,656.9C432.2,653 432.6,649.8 434.2,650.4C435.8,651.1 439,660.7 440.7,661C442.5,661.3 443.6,653.8 444.8,652.1C446,650.3 447.1,650.3 448,650.4C449,650.6 449.4,654 450.5,652.9C451.6,651.8 453.2,645.8 454.5,643.9C455.9,642 457.3,642.6 458.6,641.5C460,640.4 461.2,636.6 462.7,637.4C464.2,638.2 465.8,644.7 467.6,646.4C469.3,648 471.1,646.2 473.3,647.2C475.4,648.1 478.5,651.5 480.6,652.1C482.6,652.6 484,650.8 485.5,650.4C486.9,650 487.8,652.3 489.5,649.6C491.3,646.9 493.9,635.2 496,634.2C498.2,633.1 500.5,640.7 502.5,643.1C504.6,645.6 506.5,649.3 508.2,648.8C510,648.3 511.2,640.3 513.1,639.9C515,639.5 517.6,645.7 519.6,646.4C521.7,647 523.6,641.6 525.3,643.9C527.1,646.2 529,656.4 530.2,660.2C531.4,664 531.6,664.4 532.6,666.7C533.7,669 535.7,672.8 536.3,674" stroke="#0000FF" stroke-width="4.5" fill="none" stroke-linejoin="round" stroke-linecap="round"/>
</g>
<g id="sp5">
<path d="M664.6,547.2V815.5M662.9,813.8H1116.8" stroke="#000" stroke-width="3.4" fill="none"/>
<path d="M664.6,813.8H670.1M664.6,760.5H670.1M664.6,707.2H670.1M664.6,653.8H670.1M664.6,600.5H670.1M664.6,547.2H670.1M664.6,787.1H667.9M664.6,733.8H667.9M664.6,680.5H667.9M664.6,627.2H667.9M664.6,573.9H667.9M664.6,813.8V808.5M777.6,813.8V808.5M890.7,813.8V808.5M1003.8,813.8V808.5M1116.8,813.8V808.5M721.1,813.8V810.5M834.2,813.8V810.5M947.2,813.8V810.5M1060.3,813.8V810.5" stroke="#000" stroke-width="3.4" fill="none"/>
<text x="658.9" y="823.2" font-size="32" text-anchor="end">0.0</text>
<text x="658.9" y="769.9" font-size="32" text-anchor="end">0.2</text>
<text x="658.9" y="716.6" font-size="32" text-anchor="end">0.4</text>
<text x="658.9" y="663.2" font-size="32" text-anchor="end">0.6</text>
<text x="658.9" y="609.9" font-size="32" text-anchor="end">0.8</text>
<text x="658.9" y="556.6" font-size="32" text-anchor="end">1.0</text>
<text x="664.6" y="844" font-size="32" text-anchor="middle">0</text>
<text x="777.6" y="844" font-size="32" text-anchor="middle">50</text>
<text x="890.7" y="844" font-size="32" text-anchor="middle">100</text>
<text x="1003.8" y="844" font-size="32" text-anchor="middle">150</text>
<text x="1116.8" y="844" font-size="32" text-anchor="middle">200</text>
<text transform="translate(601,686.3) rotate(-90)" font-size="31.5" text-anchor="middle">Accuracy</text>
<text x="890.2" y="887.8" font-size="32.1" text-anchor="middle">Epochs</text>
<text x="894.4" y="924.2" font-size="31.8" text-anchor="middle">Subject 5</text>
<path d="M665.4,813.8C665.6,806.9 665.8,781.5 666.4,772.5C667,763.4 666.7,762.3 668.8,759.5C671,756.6 675.9,755.5 679.4,755.4C682.9,755.3 685.4,758.1 690,758.6C694.6,759.2 702.9,759.3 707.1,758.6C711.3,758 712.8,757 715.2,754.6C717.6,752.1 719.5,745.2 721.7,744C723.9,742.8 726,745.6 728.2,747.3C730.4,748.9 732.6,753.5 734.7,753.8C736.9,754 739.1,748.5 741.2,748.9C743.4,749.3 745.8,754.6 747.7,756.2C749.6,757.8 751.3,757 752.6,758.6C754,760.3 754.7,768.8 755.9,766C757.1,763.1 758.2,745.8 759.9,741.6C761.7,737.4 764.6,742.6 766.5,740.7C768.4,738.8 769.8,730.8 771.3,730.2C772.8,729.5 774,731.7 775.4,736.7C776.8,741.7 778,759.7 779.5,760.3C781,760.8 782.7,740.5 784.4,739.9C786,739.4 787.6,757.4 789.2,757C790.9,756.6 792.5,739 794.1,737.5C795.7,736 797.1,746.7 799,748.1C800.9,749.4 803.6,744 805.5,745.6C807.4,747.3 808.4,760.1 810.4,757.8C812.4,755.5 814.5,732.5 817.7,731.8C821,731.1 826.4,753.4 829.9,753.8C833.4,754.2 836.6,735.5 838.9,734.2C841.2,733 842.1,745.5 843.7,746.4C845.4,747.4 846.7,739.1 848.6,739.9C850.5,740.7 853.1,752.9 855.1,751.3C857.2,749.7 858.9,730.8 860.8,730.2C862.7,729.5 864.9,744.5 866.5,747.3C868.1,750 869,745.8 870.6,746.4C872.2,747.1 874.2,751 876.3,751.3C878.3,751.6 881.1,748.6 882.8,748.1C884.5,747.5 884.8,749.1 886.4,748C887.9,747 890.2,741.3 892.1,741.5C894,741.8 896.1,748.7 897.8,749.7C899.4,750.6 900.1,745.7 901.8,747.2C903.6,748.7 906.2,758.2 908.3,758.6C910.5,759 913,750.5 914.9,749.7C916.8,748.9 917.6,755 919.7,753.7C921.9,752.5 925.4,742.6 927.9,742.3C930.3,742.1 932.1,750.5 934.4,752.1C936.7,753.7 939.1,751.8 941.7,752.1C944.3,752.4 947.4,754.3 949.8,753.7C952.3,753.2 954,748.3 956.3,748.9C958.6,749.4 960.7,757.8 963.7,757C966.6,756.2 971.4,744.2 974.2,744C977.1,743.7 978.2,753.2 980.7,755.4C983.3,757.5 987.1,757.4 989.7,757C992.3,756.6 994.3,752.9 996.2,752.9C998.1,752.9 999.3,758.3 1001.1,757C1002.8,755.6 1004.6,745.3 1006.8,744.8C1008.9,744.2 1011.9,753.7 1014.1,753.7C1016.3,753.7 1018,745.5 1019.8,744.8C1021.5,744.1 1023.2,749.3 1024.7,749.7C1026.2,750.1 1027.2,746.5 1028.7,747.2C1030.2,747.9 1031.9,753.1 1033.6,753.7C1035.4,754.4 1036.7,751.4 1039.3,751.3C1041.9,751.2 1045.5,751.8 1049.1,752.9C1052.6,754 1057.1,758.3 1060.5,757.8C1063.8,757.3 1067,750.9 1069.4,749.7C1071.8,748.4 1072.9,750.9 1075.1,750.5C1077.3,750.1 1079,746.1 1082.4,747.2C1085.8,748.3 1092.2,757 1095.4,757C1098.7,757 1099.6,749.9 1101.9,747.2C1104.2,744.5 1107.2,739.5 1109.3,740.7C1111.4,741.9 1113.7,752.2 1114.6,754.5" stroke="#00DC00" stroke-width="4.5" fill="none" stroke-linejoin="round" stroke-linecap="round"/>
<path d="M665.4,813.8C665.6,806.6 665.8,780.2 666.4,770.8C667,761.5 667.5,760 668.8,757.8C670.2,755.6 671.4,757.6 674.5,757.5C677.6,757.4 682.7,757.5 687.5,757.5C692.4,757.5 700,757.7 703.8,757.5C707.6,757.3 708.4,757 710.3,756.2C712.2,755.4 713.7,755.4 715.2,752.9C716.7,750.5 717.9,744.4 719.3,741.6C720.6,738.7 721.4,737.8 723.3,735.9C725.2,734 728.2,730.3 730.7,730.2C733.1,730 735.3,736.1 738,735C740.7,734 744.5,724.7 746.9,723.7C749.4,722.6 750.5,726.2 752.6,728.5C754.8,730.8 757.2,736.9 759.9,737.5C762.7,738 766.2,731.8 768.9,731.8C771.6,731.8 774.3,738 776.2,737.5C778.1,736.9 778.9,732.5 780.3,728.5C781.6,724.6 782.9,715.8 784.4,713.9C785.8,712 786.8,718.5 789.2,717.1C791.7,715.8 796,705.2 799,705.8C802,706.3 804.8,719.3 807.1,720.4C809.4,721.5 810.3,712.4 812.8,712.3C815.4,712.1 819.7,720 822.6,719.6C825.4,719.2 827.7,710.5 829.9,709.8C832.1,709.1 833.8,714.4 835.6,715.5C837.4,716.6 838.7,715 840.5,716.3C842.2,717.7 844.3,724.9 846.2,723.7C848.1,722.4 849.6,711.9 851.9,709C854.2,706.2 857.6,706 860,706.6C862.5,707.1 864.1,710.5 866.5,712.3C869,714 871.9,719.7 874.7,717.1C877.4,714.6 880.2,699.5 882.8,696.8C885.4,694.1 888.5,701.8 890.5,700.9C892.4,699.9 893,693.9 894.5,691.1C896,688.3 897.4,683.6 899.4,683.8C901.4,683.9 904.6,690.6 906.7,691.9C908.9,693.3 910.2,690.6 912.4,691.9C914.6,693.3 917,700.6 919.7,700C922.4,699.5 926.4,689.9 928.7,688.7C931,687.4 931.7,690.7 933.6,692.7C935.5,694.8 937.6,702.4 940.1,700.9C942.5,699.4 945.6,683.5 948.2,683.8C950.8,684.1 953.5,699.9 955.5,702.5C957.6,705.1 958.8,699.1 960.4,699.2C962,699.4 963.7,704.5 965.3,703.3C966.9,702.1 967.9,695.4 970.2,691.9C972.5,688.4 976.4,683 979.1,682.2C981.8,681.3 983.6,687.4 986.4,687C989.3,686.6 993.8,679.7 996.2,679.7C998.6,679.7 999.5,686.4 1001.1,687C1002.7,687.7 1004.2,682.6 1006,683.8C1007.7,685 1008.9,695.3 1011.7,694.4C1014.4,693.4 1019.2,678.9 1022.2,678.1C1025.2,677.3 1027.4,689.1 1029.5,689.5C1031.7,689.9 1033.3,682.2 1035.2,680.5C1037.1,678.9 1038.8,679.2 1040.9,679.7C1043.1,680.3 1045.8,685.9 1048.3,683.8C1050.7,681.6 1052.7,667.1 1055.6,666.7C1058.4,666.3 1062.5,678.8 1065.3,681.3C1068.2,683.9 1070.2,680.8 1072.7,682.2C1075.1,683.5 1077.7,690.8 1080,689.5C1082.3,688.1 1084,677.5 1086.5,674C1088.9,670.5 1092.2,668.1 1094.6,668.3C1097.1,668.6 1099.4,674.7 1101.1,675.6C1102.9,676.6 1103.6,673.7 1105.2,674C1106.8,674.3 1109.3,677 1110.9,677.3C1112.5,677.5 1114,675.9 1114.6,675.6" stroke="#0000FF" stroke-width="4.5" fill="none" stroke-linejoin="round" stroke-linecap="round"/>
</g>
<g id="sp6">
<path d="M1248.9,547.6V815.6M1247.2,813.9H1701.2" stroke="#000" stroke-width="3.4" fill="none"/>
<path d="M1248.9,813.9H1254.4M1248.9,760.6H1254.4M1248.9,707.4H1254.4M1248.9,654.1H1254.4M1248.9,600.9H1254.4M1248.9,547.6H1254.4M1248.9,787.3H1252.2M1248.9,734H1252.2M1248.9,680.8H1252.2M1248.9,627.5H1252.2M1248.9,574.2H1252.2M1248.9,813.9V808.6M1362,813.9V808.6M1475.1,813.9V808.6M1588.1,813.9V808.6M1701.2,813.9V808.6M1305.4,813.9V810.6M1418.5,813.9V810.6M1531.6,813.9V810.6M1644.7,813.9V810.6" stroke="#000" stroke-width="3.4" fill="none"/>
<text x="1243.2" y="823.3" font-size="32" text-anchor="end">0.0</text>
<text x="1243.2" y="770" font-size="32" text-anchor="end">0.2</text>
<text x="1243.2" y="716.8" font-size="32" text-anchor="end">0.4</text>
<text x="1243.2" y="663.5" font-size="32" text-anchor="end">0.6</text>
<text x="1243.2" y="610.3" font-size="32" text-anchor="end">0.8</text>
<text x="1243.2" y="557" font-size="32" text-anchor="end">1.0</text>
<text x="1248.9" y="844.1" font-size="32" text-anchor="middle">0</text>
<text x="1362" y="844.1" font-size="32" text-anchor="middle">50</text>
<text x="1475.1" y="844.1" font-size="32" text-anchor="middle">100</text>
<text x="1588.1" y="844.1" font-size="32" text-anchor="middle">150</text>
<text x="1701.2" y="844.1" font-size="32" text-anchor="middle">200</text>
<text transform="translate(1190.8,686.5) rotate(-90)" font-size="31.5" text-anchor="middle">Accuracy</text>
<text x="1475.2" y="890.1" font-size="32.1" text-anchor="middle">Epochs</text>
<text x="1480.1" y="926.6" font-size="31.8" text-anchor="middle">Subject 6</text>
<path d="M1249.7,813.9C1249.8,804.3 1249.9,768.3 1250.6,756.2C1251.3,744.1 1252.6,744.8 1253.8,741.6C1255.1,738.3 1256.4,737.6 1257.9,736.7C1259.4,735.7 1260.9,735.6 1262.8,735.9C1264.7,736.1 1267.4,735.7 1269.3,738.3C1271.2,740.9 1272.1,748.6 1274.2,751.3C1276.2,754 1279.2,755.5 1281.5,754.6C1283.8,753.6 1286,745.6 1288,745.6C1290,745.6 1291.8,751.9 1293.7,754.6C1295.6,757.3 1297.5,761.8 1299.4,761.9C1301.3,762 1303.3,756.5 1305.1,755.4C1306.8,754.3 1308.1,756.1 1310,755.4C1311.9,754.7 1314.4,751.9 1316.5,751.3C1318.5,750.8 1320.3,753.2 1322.2,752.1C1324.1,751 1326,744 1327.9,744.8C1329.8,745.6 1331.7,755.5 1333.6,757C1335.5,758.5 1337.2,755.4 1339.3,753.8C1341.3,752.1 1343.7,748.1 1345.8,747.3C1347.8,746.4 1349.7,749 1351.5,748.9C1353.2,748.7 1354.8,745.4 1356.3,746.4C1357.8,747.5 1358.4,753.4 1360.4,755.4C1362.4,757.4 1366.1,759.6 1368.5,758.6C1371,757.7 1373.1,751.3 1375,749.7C1376.9,748.1 1378,749.4 1379.9,748.9C1381.8,748.3 1384.1,746.3 1386.4,746.4C1388.7,746.6 1391.6,748.7 1393.8,749.7C1395.9,750.6 1397.6,752.3 1399.5,752.1C1401.4,752 1403.4,748.9 1405.1,748.9C1406.9,748.9 1408.4,752 1410,752.1C1411.7,752.3 1412.7,748.9 1414.9,749.7C1417.1,750.5 1420.6,756.2 1423,757C1425.5,757.8 1427.5,755.1 1429.6,754.6C1431.6,754 1433.2,752.9 1435.2,753.8C1437.3,754.6 1439.3,758.6 1441.8,759.5C1444.2,760.3 1447.7,759.3 1449.9,758.6C1452.1,758 1452.7,755 1454.8,755.4C1456.8,755.8 1459.9,761.1 1462.1,761.1C1464.3,761.1 1465.8,755.8 1467.8,755.4C1469.7,755 1471.5,761.5 1473.8,758.6C1476.2,755.8 1479.4,738.4 1482,738.3C1484.5,738.1 1486.8,754.7 1489.3,757.8C1491.7,760.9 1494.2,756.6 1496.6,757C1499,757.4 1501.9,760.2 1503.9,760.2C1506,760.2 1507,757 1508.8,757C1510.6,757 1512.3,761.7 1514.5,760.2C1516.7,758.7 1519.5,748.3 1521.8,748C1524.1,747.8 1526.2,758.1 1528.3,758.6C1530.5,759.2 1532.7,751.6 1534.8,751.3C1537,751 1539,757.8 1541.3,757C1543.6,756.2 1546.2,747.4 1548.7,746.4C1551.1,745.5 1553.5,751.3 1556,751.3C1558.4,751.3 1560.5,745.3 1563.3,746.4C1566.1,747.5 1569.7,757.5 1573.1,757.8C1576.5,758.1 1580.8,750.1 1583.6,748C1586.5,746 1588,747.5 1590.1,745.6C1592.3,743.7 1594.5,737.7 1596.7,736.7C1598.8,735.6 1600.9,737.6 1603.2,739.1C1605.5,740.6 1607.2,744.1 1610.5,745.6C1613.7,747.1 1619.3,747.9 1622.7,748C1626.1,748.2 1628.1,746.8 1630.8,746.4C1633.5,746 1636.2,746.7 1638.9,745.6C1641.7,744.5 1644.2,741 1647.1,739.9C1649.9,738.8 1653.3,736.4 1656,739.1C1658.7,741.8 1660.9,752.6 1663.4,756.2C1665.8,759.7 1668.5,761.6 1670.7,760.2C1672.8,758.9 1674.1,752.4 1676.4,748C1678.7,743.7 1682.1,734.3 1684.5,734.2C1686.9,734.1 1689.2,743.6 1691,747.2C1692.8,750.9 1693.7,755.4 1695.1,756.2C1696.4,757 1698.3,752.8 1699,752.1" stroke="#00DC00" stroke-width="4.5" fill="none" stroke-linejoin="round" stroke-linecap="round"/>
<path d="M1249.7,813.9C1249.8,807 1250.2,781 1250.6,772.5C1251,763.9 1251,764.6 1252.2,762.7C1253.4,760.8 1256.3,762.2 1257.9,761.1C1259.5,760 1260.6,758.9 1262,756.2C1263.3,753.5 1264.5,748.1 1266,744.8C1267.5,741.6 1269,738.2 1270.9,736.7C1272.8,735.2 1275.3,736.4 1277.4,735.9C1279.6,735.3 1281.6,733.1 1283.9,733.4C1286.2,733.7 1289.2,737.6 1291.3,737.5C1293.3,737.4 1294.1,733.8 1296.1,732.6C1298.2,731.4 1301.3,728.5 1303.5,730.2C1305.6,731.8 1307.3,742.4 1309.2,742.4C1311,742.4 1312.8,731.7 1314.8,730.2C1316.9,728.7 1319.3,733 1321.4,733.4C1323.4,733.8 1325.3,733 1327,732.6C1328.8,732.2 1330.3,729.5 1331.9,731C1333.6,732.5 1335.2,737.5 1336.8,741.6C1338.4,745.6 1340.1,754.4 1341.7,755.4C1343.3,756.3 1344.8,749 1346.6,747.3C1348.3,745.5 1350.5,745.8 1352.3,744.8C1354,743.9 1355.4,741.7 1357.1,741.6C1358.9,741.4 1361.2,747 1362.8,744C1364.5,741 1365.6,731.1 1366.9,723.7C1368.3,716.2 1369.6,700.3 1371,699.3C1372.3,698.2 1373.7,711.6 1375,717.1C1376.4,722.7 1377.5,731.7 1379.1,732.6C1380.7,733.6 1382.8,723 1384.8,722.8C1386.8,722.7 1389.6,730.6 1391.3,731.8C1393.1,733 1393.9,730 1395.4,730.2C1396.9,730.3 1398.6,734.8 1400.3,732.6C1401.9,730.4 1403.7,719.3 1405.1,717.1C1406.6,715 1407.7,720.1 1409.2,719.6C1410.7,719 1412.5,713.6 1414.1,713.9C1415.7,714.2 1417.4,719.9 1419,721.2C1420.6,722.6 1422.1,721.1 1423.9,722C1425.6,723 1427.7,728 1429.6,726.9C1431.5,725.8 1433.4,717.4 1435.2,715.5C1437.1,713.6 1439.3,716.1 1440.9,715.5C1442.6,715 1443.4,711.5 1445,712.3C1446.6,713.1 1448.8,720.3 1450.7,720.4C1452.6,720.5 1454.5,715.1 1456.4,713.1C1458.3,711 1460.1,708.1 1462.1,708.2C1464.1,708.3 1466.1,714.8 1468.6,713.9C1471.1,712.9 1474.7,703.4 1477.1,702.5C1479.4,701.5 1480.7,705.1 1482.8,708.2C1484.8,711.3 1486.8,722.3 1489.3,721.2C1491.7,720.1 1494.8,704.5 1497.4,701.7C1500,698.8 1502.8,702.8 1504.7,704.1C1506.6,705.5 1507,706.3 1508.8,709.8C1510.6,713.3 1512.7,726.1 1515.3,725.3C1517.9,724.5 1521.4,705.7 1524.3,704.9C1527.1,704.1 1529.5,720.8 1532.4,720.4C1535.2,720 1538.6,703.3 1541.3,702.5C1544.1,701.7 1546.1,714 1548.7,715.5C1551.2,717 1554.4,709.9 1556.8,711.4C1559.2,712.9 1560.7,724.7 1563.3,724.5C1565.9,724.2 1569.9,711.4 1572.2,709.8C1574.6,708.2 1574.4,715 1577.1,714.7C1579.8,714.4 1585.5,708.6 1588.5,708.2C1591.5,707.8 1593,712.1 1595,712.2C1597.1,712.4 1598.5,708.5 1600.7,709C1602.9,709.5 1606,715 1608,715.5C1610.1,716 1611,712.1 1612.9,712.2C1614.8,712.4 1617.3,715.5 1619.4,716.3C1621.6,717.1 1624.2,718.1 1625.9,717.1C1627.7,716.2 1628.2,708.7 1630,710.6C1631.8,712.5 1634.2,727.2 1636.5,728.5C1638.8,729.9 1641.8,720.5 1643.8,718.8C1645.9,717 1647.2,717.7 1648.7,717.9C1650.2,718.2 1651.2,721.1 1652.8,720.4C1654.4,719.7 1656.2,713.3 1658.5,713.9C1660.8,714.4 1663.9,723.2 1666.6,723.6C1669.3,724 1672.4,716.6 1674.7,716.3C1677,716 1678.8,719.6 1680.4,722C1682.1,724.5 1682.7,731.2 1684.5,731C1686.3,730.7 1689.1,721.5 1691,720.4C1692.9,719.3 1694.6,723.9 1695.9,724.5C1697.2,725 1698.5,723.8 1699,723.6" stroke="#0000FF" stroke-width="4.5" fill="none" stroke-linejoin="round" stroke-linecap="round"/>
</g>
<g id="sp7">
<path d="M86.2,954V1222.2M84.5,1220.5H538.5" stroke="#000" stroke-width="3.4" fill="none"/>
<path d="M86.2,1220.5H91.7M86.2,1167.2H91.7M86.2,1113.9H91.7M86.2,1060.6H91.7M86.2,1007.3H91.7M86.2,954H91.7M86.2,1193.8H89.5M86.2,1140.5H89.5M86.2,1087.2H89.5M86.2,1034H89.5M86.2,980.6H89.5M86.2,1220.5V1215.2M199.3,1220.5V1215.2M312.4,1220.5V1215.2M425.4,1220.5V1215.2M538.5,1220.5V1215.2M142.7,1220.5V1217.2M255.8,1220.5V1217.2M368.9,1220.5V1217.2M482,1220.5V1217.2" stroke="#000" stroke-width="3.4" fill="none"/>
<text x="80.5" y="1229.9" font-size="32" text-anchor="end">0.0</text>
<text x="80.5" y="1176.6" font-size="32" text-anchor="end">0.2</text>
<text x="80.5" y="1123.3" font-size="32" text-anchor="end">0.4</text>
<text x="80.5" y="1070" font-size="32" text-anchor="end">0.6</text>
<text x="80.5" y="1016.7" font-size="32" text-anchor="end">0.8</text>
<text x="80.5" y="963.4" font-size="32" text-anchor="end">1.0</text>
<text x="86.2" y="1250.7" font-size="32" text-anchor="middle">0</text>
<text x="199.3" y="1250.7" font-size="32" text-anchor="middle">50</text>
<text x="312.4" y="1250.7" font-size="32" text-anchor="middle">100</text>
<text x="425.4" y="1250.7" font-size="32" text-anchor="middle">150</text>
<text x="538.5" y="1250.7" font-size="32" text-anchor="middle">200</text>
<text transform="translate(26.6,1092.7) rotate(-90)" font-size="31.5" text-anchor="middle">Accuracy</text>
<text x="312.3" y="1302.2" font-size="32.1" text-anchor="middle">Epochs</text>
<text x="310.5" y="1342.6" font-size="31.8" text-anchor="middle">Subject 7</text>
<path d="M87,1220.5C87.3,1213.4 87.5,1186 88.7,1177.7C89.8,1169.4 92.5,1173.4 93.9,1170.7C95.4,1168.1 96.1,1166.7 97.4,1162.1C98.7,1157.4 100.3,1147.1 101.7,1142.9C103.2,1138.7 104.5,1136 106.1,1136.9C107.7,1137.7 109.7,1145.1 111.3,1148.2C112.9,1151.2 114.2,1150.8 115.6,1155.1C117.1,1159.4 118.7,1168 120,1174.2C121.3,1180.4 122.1,1195.7 123.4,1192.5C124.8,1189.3 126.3,1167.1 127.8,1155.1C129.2,1143.1 130.5,1124.4 132.1,1120.3C133.7,1116.3 135.8,1130.2 137.4,1130.8C138.9,1131.4 140.1,1120.3 141.7,1123.8C143.3,1127.3 145,1152.5 146.9,1151.6C148.8,1150.8 151.1,1122.7 153,1118.6C154.9,1114.6 156.5,1125 158.2,1127.3C159.9,1129.6 162.1,1130.2 163.4,1132.5C164.7,1134.8 165,1136 166,1141.2C167,1146.4 168.1,1162.5 169.5,1163.8C171,1165.1 173.1,1150.5 174.7,1149C176.3,1147.6 177.6,1154.4 179.1,1155.1C180.5,1155.8 182,1150.9 183.4,1153.4C184.9,1155.8 186.2,1170.3 187.8,1169.9C189.3,1169.4 191.1,1151.2 193,1150.8C194.8,1150.3 196.7,1168.6 199,1167.3C201.4,1166 204.3,1142.4 206.9,1142.9C209.5,1143.5 212.4,1168.9 214.7,1170.7C217,1172.6 218.3,1157 220.8,1154.2C223.2,1151.5 227.1,1154.1 229.5,1154.2C231.8,1154.4 232.9,1156.1 234.7,1155.1C236.4,1154.1 237.9,1144.7 239.9,1148.2C241.9,1151.6 244.2,1175.1 246.8,1176C249.4,1176.8 253.2,1156.1 255.5,1153.4C257.8,1150.6 259.2,1160.8 260.7,1159.4C262.3,1158.1 263.6,1146 265.1,1145.5C266.5,1145.1 268,1155 269.4,1156.8C270.9,1158.7 272,1155.1 273.8,1156.8C275.5,1158.6 277.8,1165.7 279.9,1167.3C281.9,1168.9 283.3,1168.1 285.9,1166.4C288.6,1164.7 293.2,1158.3 295.5,1156.8C297.8,1155.4 297.2,1155.3 299.8,1157.7C302.5,1160.2 307.9,1174.2 311.3,1171.6C314.7,1169 317.4,1143.5 320,1142C322.6,1140.6 325.1,1159.6 326.9,1162.9C328.8,1166.2 329.7,1164.3 331.3,1162C332.9,1159.7 334.6,1148.1 336.5,1149C338.4,1149.9 340.4,1166.2 342.6,1167.2C344.7,1168.3 347.2,1154.6 349.5,1155.1C351.8,1155.5 354.3,1168.3 356.5,1169.8C358.6,1171.4 360.5,1162.5 362.6,1164.6C364.6,1166.8 366.6,1182.6 368.6,1182.9C370.7,1183.2 373.1,1169.3 374.7,1166.4C376.3,1163.5 376.9,1167.4 378.2,1165.5C379.5,1163.6 380.9,1154.6 382.5,1155.1C384.1,1155.5 385.9,1165.8 387.7,1168.1C389.6,1170.4 391.9,1168.4 393.8,1169C395.7,1169.6 396.3,1175.1 399,1171.6C401.8,1168.1 406.7,1148.3 410.3,1148.1C414,1148 417.4,1171.6 420.8,1170.7C424.1,1169.8 427.3,1143.3 430.3,1142.9C433.4,1142.5 436.4,1166.5 439,1168.1C441.6,1169.7 443.5,1151.5 446,1152.5C448.4,1153.5 451.5,1173.8 453.8,1174.2C456.1,1174.6 458,1158 459.9,1155.1C461.7,1152.2 463.5,1157 465.1,1156.8C466.7,1156.7 467.7,1153.5 469.4,1154.2C471.2,1154.9 473.2,1158.3 475.5,1161.2C477.8,1164.1 480.7,1171.6 483.3,1171.6C485.9,1171.6 488.8,1163.5 491.1,1161.2C493.5,1158.8 495.2,1159.4 497.2,1157.7C499.2,1155.9 501.4,1150.3 503.3,1150.7C505.2,1151.2 506.8,1161.9 508.5,1160.3C510.3,1158.7 511.8,1139.7 513.7,1141.2C515.6,1142.6 517.8,1164.1 519.8,1169C521.8,1173.9 523.9,1170 525.9,1170.7C527.9,1171.4 530.2,1173 532,1173.3C533.7,1173.6 535.6,1172.6 536.3,1172.5" stroke="#00DC00" stroke-width="4.5" fill="none" stroke-linejoin="round" stroke-linecap="round"/>
<path d="M87,1220.5C87.1,1213.4 87.2,1186.3 87.8,1177.7C88.4,1169.1 89.4,1172.5 90.4,1169C91.4,1165.5 92.7,1163.5 93.9,1156.8C95.1,1150.2 96.1,1137.7 97.4,1129C98.7,1120.3 100.3,1110.8 101.7,1104.7C103.2,1098.6 104.6,1096.6 106.1,1092.5C107.5,1088.5 109,1084 110.4,1080.4C111.9,1076.8 113,1070.4 114.8,1070.8C116.5,1071.2 119,1081.5 120.8,1083C122.7,1084.4 123.9,1079.5 126.1,1079.5C128.2,1079.5 131.8,1083 133.9,1083C135.9,1083 136.6,1081.5 138.2,1079.5C139.8,1077.5 141.3,1072.7 143.4,1070.8C145.6,1068.9 149.1,1066.6 151.3,1068.2C153.4,1069.8 154.9,1076.3 156.5,1080.4C158.1,1084.4 159.2,1091.8 160.8,1092.5C162.4,1093.3 164.3,1086 166,1084.7C167.8,1083.4 169.8,1086.3 171.2,1084.7C172.7,1083.1 173.4,1079.6 174.7,1075.2C176,1070.7 177.5,1061.1 179.1,1057.8C180.7,1054.4 182.7,1057.5 184.3,1055.2C185.9,1052.9 187,1044.9 188.6,1043.9C190.2,1042.9 192.1,1048.5 193.8,1049.1C195.6,1049.7 197.6,1046.2 199,1047.4C200.5,1048.5 201.2,1052.6 202.5,1056C203.8,1059.5 205.4,1067 206.9,1068.2C208.3,1069.4 209.8,1064.3 211.2,1063C212.7,1061.7 214.3,1064 215.6,1060.4C216.9,1056.8 217.3,1041.1 219,1041.3C220.8,1041.4 224,1058.8 226,1061.3C228,1063.7 229.3,1058.2 231.2,1056C233.1,1053.9 235.3,1048.8 237.3,1048.2C239.3,1047.6 241,1053.7 243.4,1052.6C245.7,1051.4 248.6,1044.7 251.2,1041.3C253.8,1037.8 256.5,1029.1 259,1031.7C261.5,1034.3 264.1,1054.2 266,1056.9C267.8,1059.7 268.9,1049.2 270.3,1048.2C271.8,1047.2 273.1,1051.6 274.6,1050.8C276.2,1050.1 277.7,1040.1 279.9,1043.9C282,1047.6 285.1,1075.7 287.7,1073.4C290.3,1071.1 293.3,1036.1 295.5,1030C297.7,1023.9 298.8,1037.9 300.7,1036.9C302.6,1035.9 304.3,1023.3 306.8,1023.9C309.3,1024.5 313,1040 315.6,1040.4C318.3,1040.8 320.6,1027.4 322.6,1026.5C324.6,1025.6 325.9,1036.2 327.8,1035.2C329.7,1034.2 331.7,1021.9 333.9,1020.4C336.1,1019 339,1025.3 340.8,1026.5C342.7,1027.6 343.3,1022.7 345.2,1027.4C347.1,1032 349.4,1056.3 352.1,1054.3C354.9,1052.3 358.6,1016.1 361.7,1015.2C364.7,1014.3 367.9,1046.3 370.4,1049.1C372.8,1051.8 374.6,1033.2 376.5,1031.7C378.3,1030.3 379.8,1043.4 381.7,1040.4C383.6,1037.4 385.6,1015.6 387.7,1013.5C389.9,1011.3 392.4,1022.9 394.7,1027.4C397,1031.8 399,1040.5 401.7,1040.4C404.3,1040.2 407.6,1028.5 410.3,1026.5C413.1,1024.5 416,1029 418.2,1028.2C420.3,1027.5 421.8,1024.2 423.4,1022.1C425,1020.1 426.4,1016.8 427.7,1016.1C429.1,1015.4 429.8,1019.5 431.4,1018C433,1016.4 435.5,1007.4 437.1,1006.6C438.6,1005.7 439.3,1009.3 440.7,1012.8C442.1,1016.2 443.9,1026.2 445.4,1027.3C446.8,1028.4 447.7,1016.8 449.5,1019.5C451.3,1022.3 454.3,1041 456.2,1043.9C458.2,1046.7 460,1039 461.4,1036.6C462.8,1034.2 463.3,1034.4 464.5,1029.4C465.7,1024.3 467.1,1010.1 468.7,1006.6C470.2,1003 471.7,1008.9 473.9,1008.1C476,1007.3 479.5,1002.3 481.6,1001.9C483.7,1001.5 484.6,1000.5 486.3,1005.5C487.9,1010.5 489.7,1029.5 491.5,1031.9C493.2,1034.4 495.3,1022.4 496.6,1020C498,1017.7 498.5,1019.9 499.7,1018C501,1016.1 502,1005.5 503.9,1008.6C505.8,1011.7 508.7,1032.9 511.1,1036.6C513.6,1040.3 516,1031.4 518.4,1030.9C520.8,1030.4 523.4,1036 525.6,1033.5C527.9,1031 530.1,1016.7 531.8,1015.9C533.6,1015.1 535.6,1026.7 536.3,1028.8" stroke="#0000FF" stroke-width="4.5" fill="none" stroke-linejoin="round" stroke-linecap="round"/>
</g>
<g id="sp8">
<path d="M664.5,953.3V1221M662.8,1219.3H1116.8" stroke="#000" stroke-width="3.4" fill="none"/>
<path d="M664.5,1219.3H670M664.5,1166.1H670M664.5,1112.9H670M664.5,1059.7H670M664.5,1006.5H670M664.5,953.3H670M664.5,1192.7H667.8M664.5,1139.5H667.8M664.5,1086.3H667.8M664.5,1033.1H667.8M664.5,979.9H667.8M664.5,1219.3V1214M777.6,1219.3V1214M890.6,1219.3V1214M1003.7,1219.3V1214M1116.8,1219.3V1214M721,1219.3V1216M834.1,1219.3V1216M947.2,1219.3V1216M1060.3,1219.3V1216" stroke="#000" stroke-width="3.4" fill="none"/>
<text x="658.8" y="1228.7" font-size="32" text-anchor="end">0.0</text>
<text x="658.8" y="1175.5" font-size="32" text-anchor="end">0.2</text>
<text x="658.8" y="1122.3" font-size="32" text-anchor="end">0.4</text>
<text x="658.8" y="1069.1" font-size="32" text-anchor="end">0.6</text>
<text x="658.8" y="1015.9" font-size="32" text-anchor="end">0.8</text>
<text x="658.8" y="962.7" font-size="32" text-anchor="end">1.0</text>
<text x="664.5" y="1249.5" font-size="32" text-anchor="middle">0</text>
<text x="777.6" y="1249.5" font-size="32" text-anchor="middle">50</text>
<text x="890.6" y="1249.5" font-size="32" text-anchor="middle">100</text>
<text x="1003.7" y="1249.5" font-size="32" text-anchor="middle">150</text>
<text x="1116.8" y="1249.5" font-size="32" text-anchor="middle">200</text>
<text transform="translate(605,1092.2) rotate(-90)" font-size="31.5" text-anchor="middle">Accuracy</text>
<text x="890.2" y="1297.6" font-size="32.1" text-anchor="middle">Epochs</text>
<text x="895.1" y="1337.2" font-size="31.8" text-anchor="middle">Subject 8</text>
<path d="M666.5,1116C667.2,1120.2 669.2,1134 670.6,1141.2C672.1,1148.4 673.4,1161.2 675,1159.4C676.6,1157.7 678.6,1139.9 680.2,1130.8C681.8,1121.6 683.1,1104.1 684.5,1104.7C686,1105.3 687.6,1126.6 688.9,1134.2C690.2,1141.9 690.6,1149.5 692.4,1150.8C694.1,1152.1 697,1142.1 699.3,1142.1C701.6,1142.1 704.1,1150.6 706.3,1150.8C708.4,1150.9 710.2,1140.8 712.4,1142.9C714.5,1145.1 717.1,1166.5 719.3,1163.8C721.5,1161 723.4,1126.6 725.4,1126.4C727.4,1126.3 729,1164.8 731.5,1162.9C733.9,1161 737.8,1124.4 740.2,1115.1C742.5,1105.9 743.8,1104.7 745.4,1107.3C747,1109.9 748.3,1122.8 749.7,1130.8C751.2,1138.7 752.3,1154.4 754.1,1155.1C755.8,1155.8 758,1133.4 760.1,1135.1C762.3,1136.9 765.2,1161.5 767.1,1165.5C769,1169.6 769.8,1158.4 771.4,1159.4C773,1160.5 774.6,1169.9 776.7,1171.6C778.7,1173.4 781.6,1170.2 783.6,1169.9C785.6,1169.6 786.8,1171.5 788.8,1169.9C790.8,1168.3 793.9,1164.8 795.8,1160.3C797.7,1155.8 798.7,1149.2 800.1,1142.9C801.6,1136.7 802.7,1123.8 804.5,1123C806.2,1122.1 808.8,1131.8 810.5,1137.7C812.3,1143.7 813.3,1158.6 814.9,1158.6C816.5,1158.6 818.2,1136.6 820.1,1137.7C822,1138.9 824.2,1161.3 826.2,1165.5C828.2,1169.7 830.4,1162.9 832.3,1162.9C834.2,1162.9 835.6,1170 837.5,1165.5C839.4,1161 841.7,1137.6 843.6,1136C845.4,1134.4 847.2,1154.1 848.8,1156C850.4,1157.9 851.2,1146 853.1,1147.3C855,1148.6 857.9,1165.5 860.1,1163.8C862.2,1162.1 863.8,1137.3 866.2,1136.9C868.5,1136.4 871.5,1158.1 874,1161.2C876.4,1164.2 878.7,1156 880.9,1155.1C883.1,1154.2 885.1,1154.2 887.2,1155.9C889.2,1157.7 890.8,1168.1 893.2,1165.5C895.7,1162.9 898.7,1139.6 901.9,1140.3C905.1,1141 908.3,1169.4 912.4,1169.8C916.4,1170.3 923.2,1145.8 926.3,1142.9C929.3,1140 928.9,1147.1 930.6,1152.5C932.3,1157.8 934.2,1172.3 936.7,1175.1C939.1,1177.8 942.9,1171.9 945.4,1169C947.8,1166.1 949.7,1159.9 951.5,1157.7C953.2,1155.5 954.4,1159.6 955.8,1155.9C957.2,1152.3 958.6,1135.5 960.1,1136C961.7,1136.4 963.5,1152.5 965.4,1158.5C967.2,1164.6 969.1,1173.8 971.4,1172.5C973.8,1171.1 977.2,1153.5 979.3,1150.7C981.3,1148 982.2,1155.7 983.6,1155.9C985,1156.2 986.4,1152.9 987.9,1152.5C989.5,1152 991.6,1153.9 993.2,1153.3C994.8,1152.8 995.9,1148.7 997.5,1149C999.1,1149.3 1001,1154.5 1002.7,1155.1C1004.5,1155.7 1006,1152.6 1007.9,1152.5C1009.8,1152.3 1012.1,1155.4 1014,1154.2C1015.9,1153 1016.6,1143.6 1019.2,1145.5C1021.8,1147.4 1026.6,1163.6 1029.6,1165.5C1032.7,1167.4 1035.4,1158.7 1037.5,1156.8C1039.5,1154.9 1040.2,1156.5 1041.8,1154.2C1043.4,1151.9 1045.3,1142.8 1047,1142.9C1048.8,1143.1 1050.2,1151.7 1052.2,1155.1C1054.3,1158.4 1056.7,1164.2 1059.2,1162.9C1061.6,1161.6 1063.8,1146.2 1067,1147.3C1070.2,1148.3 1075.6,1166.4 1078.3,1169C1081.1,1171.6 1082.1,1164.1 1083.5,1162.9C1085,1161.7 1085.4,1164.1 1087,1162C1088.6,1160 1091,1151.6 1093.1,1150.7C1095.1,1149.9 1097.1,1155.2 1099.2,1156.8C1101.2,1158.4 1103.2,1158.8 1105.2,1160.3C1107.3,1161.7 1109.8,1165.2 1111.3,1165.5C1112.9,1165.8 1114.1,1162.6 1114.6,1162" stroke="#00DC00" stroke-width="4.5" fill="none" stroke-linejoin="round" stroke-linecap="round"/>
<path d="M666.5,1175.1C666.9,1170.3 667.9,1157 668.9,1146.4C669.9,1135.8 671.1,1120.9 672.4,1111.7C673.7,1102.4 675.3,1097.2 676.7,1090.8C678.2,1084.4 679.6,1076.9 681.1,1073.4C682.5,1069.9 683.8,1069.4 685.4,1069.9C687,1070.5 689,1073.1 690.6,1076.9C692.2,1080.7 693.7,1087.3 695,1092.5C696.3,1097.8 697,1109.9 698.4,1108.2C699.9,1106.4 702.2,1087.5 703.7,1082.1C705.1,1076.8 706,1077.8 707.1,1076C708.3,1074.3 709.2,1075.2 710.6,1071.7C712.1,1068.2 714.2,1057.5 715.8,1055.2C717.4,1052.9 718.6,1060.4 720.2,1057.8C721.8,1055.2 723.1,1035.6 725.4,1039.5C727.7,1043.4 731.5,1082.5 734.1,1081.2C736.7,1079.9 738.6,1036.6 741,1031.7C743.5,1026.8 746.7,1049.1 748.8,1051.7C751,1054.3 752.2,1049.2 754.1,1047.4C755.9,1045.5 757.8,1035.8 760.1,1040.4C762.5,1045 765.5,1069.7 768,1075.2C770.4,1080.7 773,1074.9 774.9,1073.4C776.8,1072 777.8,1067 779.3,1066.5C780.7,1065.9 782,1075.4 783.6,1069.9C785.2,1064.4 786.9,1032.6 788.8,1033.4C790.7,1034.3 793,1066 794.9,1075.2C796.8,1084.3 798.1,1090.4 800.1,1088.2C802.1,1086 805,1065.3 807.1,1062.1C809.1,1058.9 810.8,1069.5 812.3,1069.1C813.7,1068.6 814.3,1057.2 815.8,1059.5C817.2,1061.8 818.8,1086.9 821,1083C823.1,1079.1 826.5,1040 828.8,1036.1C831.1,1032.1 833.3,1056.9 834.9,1059.5C836.5,1062.1 837,1052.7 838.4,1051.7C839.7,1050.7 841.1,1054.4 842.7,1053.4C844.3,1052.4 846.3,1046.5 847.9,1045.6C849.5,1044.7 850.8,1049.7 852.3,1048.2C853.7,1046.8 854.9,1036.5 856.6,1036.9C858.3,1037.4 860.5,1049.1 862.7,1050.8C864.9,1052.6 867.6,1046.5 869.6,1047.4C871.7,1048.2 873.3,1054.6 874.8,1056C876.4,1057.5 877.6,1048.8 879.2,1056C880.8,1063.3 883.4,1092.1 884.4,1099.5C885.4,1106.9 884.1,1102.1 885.4,1100.3C886.8,1098.6 890.6,1092.7 892.4,1089C894.1,1085.4 894.4,1084.6 895.9,1078.6C897.3,1072.7 899.2,1053.7 901.1,1053.4C902.9,1053.1 905.3,1074.4 907.1,1076.9C909,1079.3 910.5,1070.4 912.4,1068.2C914.2,1066 916,1060.1 918.4,1063.8C920.9,1067.6 924.8,1086.9 927.1,1090.8C929.4,1094.7 930.5,1092.5 932.3,1087.3C934.2,1082.1 936.1,1056.8 938.4,1059.5C940.7,1062.3 943.5,1104 946.2,1103.8C949,1103.7 952.3,1062.8 954.9,1058.6C957.5,1054.4 959.9,1076.4 961.9,1078.6C963.9,1080.8 965.2,1072.2 967.1,1071.7C969,1071.1 971.3,1076.7 973.2,1075.1C975.1,1073.6 976.5,1062.1 978.4,1062.1C980.3,1062.1 982.6,1073.6 984.5,1075.1C986.4,1076.7 987.7,1070.5 989.7,1071.7C991.7,1072.8 994.3,1081.4 996.6,1082.1C999,1082.8 1001.6,1076.9 1003.6,1076C1005.6,1075.1 1007.1,1078.9 1008.8,1076.9C1010.5,1074.9 1011.7,1060.7 1014,1063.8C1016.3,1067 1019.9,1095.6 1022.7,1096C1025.4,1096.4 1028.2,1070.2 1030.5,1066.5C1032.8,1062.7 1034.9,1074.1 1036.6,1073.4C1038.3,1072.7 1038.9,1057.2 1040.9,1062.1C1043,1067 1046.2,1102.1 1048.8,1102.9C1051.4,1103.8 1054.3,1070.2 1056.6,1067.3C1058.9,1064.4 1060.6,1080.8 1062.7,1085.6C1064.7,1090.3 1067,1095.4 1068.7,1096C1070.5,1096.6 1071.5,1089.5 1073.1,1089C1074.7,1088.6 1076.7,1093.2 1078.3,1093.4C1079.9,1093.5 1081.1,1088.5 1082.6,1089.9C1084.2,1091.4 1085.8,1102.1 1087.9,1102.1C1089.9,1102.1 1092.3,1091.1 1094.8,1089.9C1097.3,1088.8 1100,1096.4 1102.6,1095.1C1105.2,1093.8 1108.5,1082.5 1110.4,1082.1C1112.4,1081.7 1113.9,1090.8 1114.6,1092.5" stroke="#0000FF" stroke-width="4.5" fill="none" stroke-linejoin="round" stroke-linecap="round"/>
</g>
<g id="sp9">
<path d="M1248.9,954.4V1222.5M1247.2,1220.8H1701.2" stroke="#000" stroke-width="3.4" fill="none"/>
<path d="M1248.9,1220.8H1254.4M1248.9,1167.5H1254.4M1248.9,1114.2H1254.4M1248.9,1061H1254.4M1248.9,1007.7H1254.4M1248.9,954.4H1254.4M1248.9,1194.2H1252.2M1248.9,1140.9H1252.2M1248.9,1087.6H1252.2M1248.9,1034.3H1252.2M1248.9,981H1252.2M1248.9,1220.8V1215.5M1362,1220.8V1215.5M1475.1,1220.8V1215.5M1588.1,1220.8V1215.5M1701.2,1220.8V1215.5M1305.4,1220.8V1217.5M1418.5,1220.8V1217.5M1531.6,1220.8V1217.5M1644.7,1220.8V1217.5" stroke="#000" stroke-width="3.4" fill="none"/>
<text x="1243.2" y="1230.2" font-size="32" text-anchor="end">0.0</text>
<text x="1243.2" y="1176.9" font-size="32" text-anchor="end">0.2</text>
<text x="1243.2" y="1123.6" font-size="32" text-anchor="end">0.4</text>
<text x="1243.2" y="1070.4" font-size="32" text-anchor="end">0.6</text>
<text x="1243.2" y="1017.1" font-size="32" text-anchor="end">0.8</text>
<text x="1243.2" y="963.8" font-size="32" text-anchor="end">1.0</text>
<text x="1248.9" y="1251" font-size="32" text-anchor="middle">0</text>
<text x="1362" y="1251" font-size="32" text-anchor="middle">50</text>
<text x="1475.1" y="1251" font-size="32" text-anchor="middle">100</text>
<text x="1588.1" y="1251" font-size="32" text-anchor="middle">150</text>
<text x="1701.2" y="1251" font-size="32" text-anchor="middle">200</text>
<text transform="translate(1189.4,1093) rotate(-90)" font-size="31.5" text-anchor="middle">Accuracy</text>
<text x="1475.2" y="1296.9" font-size="32.1" text-anchor="middle">Epochs</text>
<text x="1478.3" y="1336.3" font-size="31.8" text-anchor="middle">Subject 9</text>
<path d="M1249.7,1220.8C1250.1,1213.6 1251,1188.6 1252.2,1177.7C1253.3,1166.7 1255.1,1162.2 1256.5,1155.1C1258,1148 1259.3,1135.1 1260.9,1135.1C1262.4,1135.1 1264.6,1150.8 1266.1,1155.1C1267.5,1159.4 1267.8,1157.4 1269.5,1161.2C1271.3,1165 1274.2,1178.4 1276.5,1177.7C1278.8,1177 1281.6,1161.2 1283.4,1156.8C1285.3,1152.5 1286.5,1152.4 1287.8,1151.6C1289.1,1150.9 1290,1153.7 1291.3,1152.5C1292.6,1151.3 1294,1141.2 1295.6,1144.7C1297.2,1148.2 1299.1,1172.3 1300.8,1173.4C1302.6,1174.4 1304.3,1153.9 1306,1150.8C1307.8,1147.6 1310,1154.1 1311.3,1154.2C1312.6,1154.4 1312.6,1148 1313.9,1151.6C1315.2,1155.2 1317,1176.7 1319.1,1176C1321.1,1175.2 1323.3,1147.9 1326,1147.3C1328.8,1146.7 1332.7,1176.4 1335.6,1172.5C1338.5,1168.6 1340.9,1125.4 1343.4,1123.8C1345.9,1122.2 1348.3,1159.6 1350.4,1162.9C1352.4,1166.3 1354,1143.1 1355.6,1143.8C1357.2,1144.5 1358.5,1164.4 1359.9,1167.3C1361.4,1170.2 1362.8,1160.8 1364.3,1161.2C1365.7,1161.6 1366.9,1171.3 1368.6,1169.9C1370.3,1168.4 1372.8,1153.5 1374.7,1152.5C1376.6,1151.5 1377.9,1164.5 1379.9,1163.8C1381.9,1163.1 1384.7,1146.7 1386.9,1148.2C1389,1149.6 1390.8,1171.2 1392.9,1172.5C1395.1,1173.8 1397.6,1156.6 1399.9,1156C1402.2,1155.4 1404.5,1171.3 1406.8,1169C1409.2,1166.7 1411.5,1143.1 1413.8,1142.1C1416.1,1141.1 1418.3,1160.3 1420.7,1162.9C1423.2,1165.5 1426,1157 1428.6,1157.7C1431.2,1158.4 1434.1,1166.3 1436.4,1167.3C1438.7,1168.3 1439.9,1163.4 1442.5,1163.8C1445.1,1164.2 1449.1,1173.1 1452,1169.9C1454.9,1166.7 1457.5,1145.1 1459.8,1144.7C1462.2,1144.2 1463.9,1165.1 1465.9,1167.3C1468,1169.4 1470.1,1157.1 1472.2,1157.7C1474.2,1158.3 1476.5,1169.1 1478.2,1170.7C1480,1172.3 1480.7,1167.1 1482.6,1167.2C1484.5,1167.4 1487.5,1171.1 1489.5,1171.6C1491.6,1172 1493,1172 1494.8,1169.8C1496.5,1167.7 1498.1,1158.3 1500,1158.5C1501.8,1158.8 1504,1171.7 1506,1171.6C1508.1,1171.4 1510.1,1161.4 1512.1,1157.7C1514.2,1153.9 1516.2,1148.8 1518.2,1149C1520.2,1149.1 1522.1,1158.1 1524.3,1158.5C1526.5,1159 1529.1,1150.7 1531.2,1151.6C1533.4,1152.5 1535.3,1162.2 1537.3,1163.8C1539.4,1165.4 1541.4,1160.4 1543.4,1161.2C1545.4,1161.9 1547.5,1168.8 1549.5,1168.1C1551.5,1167.4 1553,1156.8 1555.6,1156.8C1558.2,1156.8 1562.4,1167.8 1565.1,1168.1C1567.9,1168.4 1570.3,1160 1572.1,1158.5C1573.8,1157.1 1574,1162 1575.6,1159.4C1577.1,1156.8 1579.3,1141.9 1581.6,1142.9C1584,1143.9 1586.6,1165.5 1589.5,1165.5C1592.3,1165.5 1595.8,1143.1 1599,1142.9C1602.2,1142.8 1606.2,1162.2 1608.6,1164.6C1610.9,1167.1 1611.3,1157.4 1612.9,1157.7C1614.5,1158 1616,1167.1 1618.1,1166.4C1620.3,1165.6 1623.5,1154.8 1625.9,1153.3C1628.4,1151.9 1630.9,1156.8 1632.9,1157.7C1634.9,1158.5 1636.1,1156.7 1638.1,1158.5C1640.1,1160.4 1642.2,1169.7 1645.1,1169C1648,1168.3 1652.2,1155.1 1655.5,1154.2C1658.8,1153.3 1662.3,1163.5 1665,1163.8C1667.8,1164.1 1669.7,1157.4 1672,1155.9C1674.3,1154.5 1676.8,1155.7 1678.9,1155.1C1681.1,1154.5 1683.3,1155.2 1685,1152.5C1686.8,1149.7 1687.6,1137.1 1689.4,1138.6C1691.1,1140 1693.8,1159.3 1695.4,1161.2C1697.1,1163 1698.4,1151.7 1699,1149.9" stroke="#00DC00" stroke-width="4.5" fill="none" stroke-linejoin="round" stroke-linecap="round"/>
<path d="M1249.7,1220.8C1249.9,1208.4 1250.4,1166.3 1250.8,1146.4C1251.2,1126.5 1251.6,1111.7 1252.2,1101.2C1252.7,1090.8 1253,1088.3 1253.9,1083.8C1254.8,1079.4 1255.9,1076.3 1257.4,1074.3C1258.8,1072.3 1260.7,1072.7 1262.6,1071.7C1264.5,1070.7 1266.6,1068.5 1268.7,1068.2C1270.7,1067.9 1273.2,1070.8 1274.8,1069.9C1276.4,1069.1 1276.9,1067 1278.2,1063C1279.5,1058.9 1281,1050.4 1282.6,1045.6C1284.2,1040.8 1286.1,1034 1287.8,1034.3C1289.5,1034.6 1291.3,1040.7 1293,1047.4C1294.7,1054 1296,1073 1298.2,1074.3C1300.4,1075.6 1303.4,1055.2 1306,1055.2C1308.6,1055.2 1311.4,1074.3 1313.9,1074.3C1316.3,1074.3 1318.5,1055.8 1320.8,1055.2C1323.1,1054.6 1325.6,1070.8 1327.8,1070.8C1329.9,1070.8 1331.5,1054.2 1333.8,1055.2C1336.2,1056.2 1339.4,1076.8 1341.7,1076.9C1344,1077 1345.7,1061.1 1347.8,1056C1349.8,1051 1351.4,1044.7 1353.8,1046.5C1356.3,1048.2 1360.1,1062.1 1362.5,1066.5C1365,1070.8 1366.1,1068.9 1368.6,1072.6C1371.1,1076.2 1374.8,1089.8 1377.3,1088.2C1379.8,1086.6 1381.4,1070.1 1383.4,1063C1385.4,1055.9 1387.1,1046.3 1389.5,1045.6C1391.8,1044.9 1394.8,1055.2 1397.3,1058.6C1399.7,1062.1 1401.9,1066.3 1404.2,1066.5C1406.6,1066.6 1409,1059.5 1411.2,1059.5C1413.4,1059.5 1415.2,1068.8 1417.3,1066.5C1419.3,1064.2 1421,1051.3 1423.4,1045.6C1425.7,1040 1428.7,1031.7 1431.2,1032.6C1433.6,1033.4 1435.8,1048.5 1438.1,1050.8C1440.4,1053.1 1442.9,1045.3 1445.1,1046.5C1447.2,1047.6 1449.1,1055.6 1451.2,1057.8C1453.2,1060 1454.8,1056.8 1457.2,1059.5C1459.7,1062.3 1463.2,1074.3 1465.9,1074.3C1468.7,1074.3 1471.3,1059.8 1473.9,1059.5C1476.5,1059.2 1479.5,1071.5 1481.7,1072.5C1483.9,1073.6 1485.5,1066.9 1486.9,1065.6C1488.4,1064.3 1488.8,1069.2 1490.4,1064.7C1492,1060.2 1494.2,1040 1496.5,1038.7C1498.8,1037.4 1502,1055.9 1504.3,1056.9C1506.6,1057.9 1508.4,1046.8 1510.4,1044.7C1512.4,1042.7 1514.6,1042.1 1516.5,1044.7C1518.4,1047.3 1520.1,1057.6 1521.7,1060.4C1523.3,1063.1 1524.3,1058.3 1526,1061.2C1527.8,1064.1 1529.6,1080.4 1532.1,1077.7C1534.6,1075.1 1538.6,1049.2 1540.8,1045.6C1543,1042 1543.7,1054.9 1545.1,1056C1546.6,1057.2 1548,1052.4 1549.5,1052.6C1550.9,1052.7 1551.9,1061.7 1553.8,1056.9C1555.7,1052.1 1558.5,1026.3 1560.8,1023.9C1563.1,1021.4 1565.6,1037.2 1567.7,1042.1C1569.9,1047.1 1571.5,1054.6 1573.8,1053.4C1576.1,1052.3 1579.3,1035.9 1581.6,1035.2C1584,1034.5 1585.5,1044.6 1587.7,1049.1C1589.9,1053.6 1592.8,1062.8 1594.7,1062.1C1596.5,1061.4 1597.6,1047.8 1599,1044.7C1600.5,1041.7 1601.6,1045.6 1603.4,1043.9C1605.1,1042.1 1606.8,1033 1609.4,1034.3C1612,1035.6 1616.1,1050.2 1619,1051.7C1621.9,1053.1 1624.8,1044.7 1626.8,1043C1628.8,1041.3 1629.6,1043.6 1631.2,1041.3C1632.7,1038.9 1634.6,1030.5 1636.4,1029.1C1638.1,1027.6 1639.8,1032.3 1641.6,1032.6C1643.3,1032.9 1644.9,1029.8 1646.8,1030.8C1648.7,1031.8 1650.7,1033.9 1652.9,1038.7C1655,1043.4 1657.5,1058.3 1659.8,1059.5C1662.1,1060.7 1664.9,1049.7 1666.8,1045.6C1668.7,1041.5 1669.2,1032.9 1671.1,1035.2C1673,1037.5 1675.6,1060.2 1678.1,1059.5C1680.5,1058.8 1683.4,1034.3 1685.9,1030.8C1688.4,1027.4 1690.7,1038.7 1692.8,1038.7C1695,1038.7 1698,1032.1 1699,1030.8" stroke="#0000FF" stroke-width="4.5" fill="none" stroke-linejoin="round" stroke-linecap="round"/>
</g>
</svg>
</body></html>
